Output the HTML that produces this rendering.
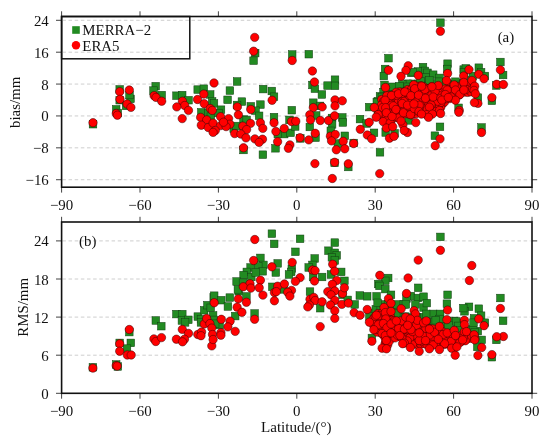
<!DOCTYPE html><html><head><meta charset="utf-8"><title>fig</title><style>html,body{margin:0;padding:0;background:#fff;overflow:hidden}svg{display:block}text{font-family:"Liberation Serif","DejaVu Serif",serif;fill:#111}</style></head><body>
<svg width="550" height="442" viewBox="0 0 550 442">
<rect width="550" height="442" fill="#fff"/>
<rect x="61.6" y="16.5" width="128.20" height="42.30" fill="#fff" stroke="#111" stroke-width="1.5"/>
<line x1="62.4" y1="20.31" x2="530.5" y2="20.31" stroke="#c2c2c2" stroke-width="0.8" stroke-dasharray="3.5 2.65"/>
<line x1="62.4" y1="52.19" x2="530.5" y2="52.19" stroke="#c2c2c2" stroke-width="0.8" stroke-dasharray="3.5 2.65"/>
<line x1="62.4" y1="84.07" x2="530.5" y2="84.07" stroke="#c2c2c2" stroke-width="0.8" stroke-dasharray="3.5 2.65"/>
<line x1="62.4" y1="115.95" x2="530.5" y2="115.95" stroke="#c2c2c2" stroke-width="0.8" stroke-dasharray="3.5 2.65"/>
<line x1="62.4" y1="147.83" x2="530.5" y2="147.83" stroke="#c2c2c2" stroke-width="0.8" stroke-dasharray="3.5 2.65"/>
<line x1="62.4" y1="179.71" x2="530.5" y2="179.71" stroke="#c2c2c2" stroke-width="0.8" stroke-dasharray="3.5 2.65"/>
<line x1="62.4" y1="240.90" x2="530.5" y2="240.90" stroke="#c2c2c2" stroke-width="0.8" stroke-dasharray="3.5 2.65"/>
<line x1="62.4" y1="279.00" x2="530.5" y2="279.00" stroke="#c2c2c2" stroke-width="0.8" stroke-dasharray="3.5 2.65"/>
<line x1="62.4" y1="317.10" x2="530.5" y2="317.10" stroke="#c2c2c2" stroke-width="0.8" stroke-dasharray="3.5 2.65"/>
<line x1="62.4" y1="355.20" x2="530.5" y2="355.20" stroke="#c2c2c2" stroke-width="0.8" stroke-dasharray="3.5 2.65"/>
<g>
<rect x="436.4" y="83.9" width="7.6" height="7.6" fill="#228b22" stroke="#123d12" stroke-width="0.5"/>
<rect x="409.4" y="80.0" width="7.6" height="7.6" fill="#228b22" stroke="#123d12" stroke-width="0.5"/>
<rect x="414.3" y="80.1" width="7.6" height="7.6" fill="#228b22" stroke="#123d12" stroke-width="0.5"/>
<rect x="386.1" y="101.7" width="7.6" height="7.6" fill="#228b22" stroke="#123d12" stroke-width="0.5"/>
<rect x="404.1" y="79.9" width="7.6" height="7.6" fill="#228b22" stroke="#123d12" stroke-width="0.5"/>
<rect x="378.5" y="105.8" width="7.6" height="7.6" fill="#228b22" stroke="#123d12" stroke-width="0.5"/>
<rect x="411.8" y="84.6" width="7.6" height="7.6" fill="#228b22" stroke="#123d12" stroke-width="0.5"/>
<rect x="422.4" y="93.3" width="7.6" height="7.6" fill="#228b22" stroke="#123d12" stroke-width="0.5"/>
<rect x="451.4" y="84.4" width="7.6" height="7.6" fill="#228b22" stroke="#123d12" stroke-width="0.5"/>
<rect x="379.7" y="88.3" width="7.6" height="7.6" fill="#228b22" stroke="#123d12" stroke-width="0.5"/>
<rect x="407.3" y="101.0" width="7.6" height="7.6" fill="#228b22" stroke="#123d12" stroke-width="0.5"/>
<rect x="374.0" y="97.4" width="7.6" height="7.6" fill="#228b22" stroke="#123d12" stroke-width="0.5"/>
<rect x="434.1" y="96.8" width="7.6" height="7.6" fill="#228b22" stroke="#123d12" stroke-width="0.5"/>
<rect x="416.4" y="83.7" width="7.6" height="7.6" fill="#228b22" stroke="#123d12" stroke-width="0.5"/>
<rect x="386.6" y="93.6" width="7.6" height="7.6" fill="#228b22" stroke="#123d12" stroke-width="0.5"/>
<rect x="448.4" y="80.0" width="7.6" height="7.6" fill="#228b22" stroke="#123d12" stroke-width="0.5"/>
<rect x="443.8" y="87.8" width="7.6" height="7.6" fill="#228b22" stroke="#123d12" stroke-width="0.5"/>
<rect x="385.0" y="105.7" width="7.6" height="7.6" fill="#228b22" stroke="#123d12" stroke-width="0.5"/>
<rect x="386.8" y="83.9" width="7.6" height="7.6" fill="#228b22" stroke="#123d12" stroke-width="0.5"/>
<rect x="467.3" y="76.3" width="7.6" height="7.6" fill="#228b22" stroke="#123d12" stroke-width="0.5"/>
<rect x="431.9" y="93.4" width="7.6" height="7.6" fill="#228b22" stroke="#123d12" stroke-width="0.5"/>
<rect x="432.2" y="100.8" width="7.6" height="7.6" fill="#228b22" stroke="#123d12" stroke-width="0.5"/>
<rect x="394.0" y="88.4" width="7.6" height="7.6" fill="#228b22" stroke="#123d12" stroke-width="0.5"/>
<rect x="461.3" y="83.6" width="7.6" height="7.6" fill="#228b22" stroke="#123d12" stroke-width="0.5"/>
<rect x="404.9" y="88.0" width="7.6" height="7.6" fill="#228b22" stroke="#123d12" stroke-width="0.5"/>
<rect x="404.2" y="106.1" width="7.6" height="7.6" fill="#228b22" stroke="#123d12" stroke-width="0.5"/>
<rect x="394.5" y="97.0" width="7.6" height="7.6" fill="#228b22" stroke="#123d12" stroke-width="0.5"/>
<rect x="396.5" y="84.3" width="7.6" height="7.6" fill="#228b22" stroke="#123d12" stroke-width="0.5"/>
<rect x="441.3" y="92.9" width="7.6" height="7.6" fill="#228b22" stroke="#123d12" stroke-width="0.5"/>
<rect x="399.5" y="105.9" width="7.6" height="7.6" fill="#228b22" stroke="#123d12" stroke-width="0.5"/>
<rect x="382.0" y="92.9" width="7.6" height="7.6" fill="#228b22" stroke="#123d12" stroke-width="0.5"/>
<rect x="406.5" y="92.4" width="7.6" height="7.6" fill="#228b22" stroke="#123d12" stroke-width="0.5"/>
<rect x="374.0" y="105.7" width="7.6" height="7.6" fill="#228b22" stroke="#123d12" stroke-width="0.5"/>
<rect x="397.1" y="100.8" width="7.6" height="7.6" fill="#228b22" stroke="#123d12" stroke-width="0.5"/>
<rect x="416.2" y="93.3" width="7.6" height="7.6" fill="#228b22" stroke="#123d12" stroke-width="0.5"/>
<rect x="447.3" y="83.7" width="7.6" height="7.6" fill="#228b22" stroke="#123d12" stroke-width="0.5"/>
<rect x="429.6" y="89.1" width="7.6" height="7.6" fill="#228b22" stroke="#123d12" stroke-width="0.5"/>
<rect x="382.1" y="101.6" width="7.6" height="7.6" fill="#228b22" stroke="#123d12" stroke-width="0.5"/>
<rect x="454.4" y="79.2" width="7.6" height="7.6" fill="#228b22" stroke="#123d12" stroke-width="0.5"/>
<rect x="434.5" y="88.6" width="7.6" height="7.6" fill="#228b22" stroke="#123d12" stroke-width="0.5"/>
<rect x="408.4" y="89.2" width="7.6" height="7.6" fill="#228b22" stroke="#123d12" stroke-width="0.5"/>
<rect x="376.2" y="92.5" width="7.6" height="7.6" fill="#228b22" stroke="#123d12" stroke-width="0.5"/>
<rect x="404.0" y="97.3" width="7.6" height="7.6" fill="#228b22" stroke="#123d12" stroke-width="0.5"/>
<rect x="414.8" y="89.3" width="7.6" height="7.6" fill="#228b22" stroke="#123d12" stroke-width="0.5"/>
<rect x="388.6" y="97.3" width="7.6" height="7.6" fill="#228b22" stroke="#123d12" stroke-width="0.5"/>
<rect x="444.1" y="80.0" width="7.6" height="7.6" fill="#228b22" stroke="#123d12" stroke-width="0.5"/>
<rect x="435.0" y="79.9" width="7.6" height="7.6" fill="#228b22" stroke="#123d12" stroke-width="0.5"/>
<rect x="383.6" y="88.2" width="7.6" height="7.6" fill="#228b22" stroke="#123d12" stroke-width="0.5"/>
<rect x="427.2" y="92.1" width="7.6" height="7.6" fill="#228b22" stroke="#123d12" stroke-width="0.5"/>
<rect x="419.9" y="79.9" width="7.6" height="7.6" fill="#228b22" stroke="#123d12" stroke-width="0.5"/>
<rect x="416.1" y="102.1" width="7.6" height="7.6" fill="#228b22" stroke="#123d12" stroke-width="0.5"/>
<rect x="401.7" y="93.3" width="7.6" height="7.6" fill="#228b22" stroke="#123d12" stroke-width="0.5"/>
<rect x="414.7" y="97.4" width="7.6" height="7.6" fill="#228b22" stroke="#123d12" stroke-width="0.5"/>
<rect x="457.3" y="84.1" width="7.6" height="7.6" fill="#228b22" stroke="#123d12" stroke-width="0.5"/>
<rect x="442.2" y="84.1" width="7.6" height="7.6" fill="#228b22" stroke="#123d12" stroke-width="0.5"/>
<rect x="422.2" y="83.8" width="7.6" height="7.6" fill="#228b22" stroke="#123d12" stroke-width="0.5"/>
<rect x="401.0" y="100.9" width="7.6" height="7.6" fill="#228b22" stroke="#123d12" stroke-width="0.5"/>
<rect x="383.7" y="96.9" width="7.6" height="7.6" fill="#228b22" stroke="#123d12" stroke-width="0.5"/>
<rect x="409.7" y="97.0" width="7.6" height="7.6" fill="#228b22" stroke="#123d12" stroke-width="0.5"/>
<rect x="449.3" y="88.2" width="7.6" height="7.6" fill="#228b22" stroke="#123d12" stroke-width="0.5"/>
<rect x="386.7" y="110.3" width="7.6" height="7.6" fill="#228b22" stroke="#123d12" stroke-width="0.5"/>
<rect x="398.5" y="96.7" width="7.6" height="7.6" fill="#228b22" stroke="#123d12" stroke-width="0.5"/>
<rect x="389.7" y="88.2" width="7.6" height="7.6" fill="#228b22" stroke="#123d12" stroke-width="0.5"/>
<rect x="410.9" y="102.1" width="7.6" height="7.6" fill="#228b22" stroke="#123d12" stroke-width="0.5"/>
<rect x="424.1" y="80.2" width="7.6" height="7.6" fill="#228b22" stroke="#123d12" stroke-width="0.5"/>
<rect x="401.4" y="84.0" width="7.6" height="7.6" fill="#228b22" stroke="#123d12" stroke-width="0.5"/>
<rect x="428.8" y="79.5" width="7.6" height="7.6" fill="#228b22" stroke="#123d12" stroke-width="0.5"/>
<rect x="391.9" y="92.6" width="7.6" height="7.6" fill="#228b22" stroke="#123d12" stroke-width="0.5"/>
<rect x="377.2" y="101.8" width="7.6" height="7.6" fill="#228b22" stroke="#123d12" stroke-width="0.5"/>
<rect x="399.1" y="88.4" width="7.6" height="7.6" fill="#228b22" stroke="#123d12" stroke-width="0.5"/>
<rect x="459.4" y="79.8" width="7.6" height="7.6" fill="#228b22" stroke="#123d12" stroke-width="0.5"/>
<rect x="454.7" y="87.8" width="7.6" height="7.6" fill="#228b22" stroke="#123d12" stroke-width="0.5"/>
<rect x="396.3" y="93.4" width="7.6" height="7.6" fill="#228b22" stroke="#123d12" stroke-width="0.5"/>
<rect x="419.1" y="97.0" width="7.6" height="7.6" fill="#228b22" stroke="#123d12" stroke-width="0.5"/>
<rect x="424.2" y="97.5" width="7.6" height="7.6" fill="#228b22" stroke="#123d12" stroke-width="0.5"/>
<rect x="389.6" y="105.3" width="7.6" height="7.6" fill="#228b22" stroke="#123d12" stroke-width="0.5"/>
<rect x="381.1" y="111.0" width="7.6" height="7.6" fill="#228b22" stroke="#123d12" stroke-width="0.5"/>
<rect x="439.3" y="79.1" width="7.6" height="7.6" fill="#228b22" stroke="#123d12" stroke-width="0.5"/>
<rect x="426.2" y="84.1" width="7.6" height="7.6" fill="#228b22" stroke="#123d12" stroke-width="0.5"/>
<rect x="424.9" y="88.1" width="7.6" height="7.6" fill="#228b22" stroke="#123d12" stroke-width="0.5"/>
<rect x="379.3" y="97.0" width="7.6" height="7.6" fill="#228b22" stroke="#123d12" stroke-width="0.5"/>
<rect x="391.6" y="110.7" width="7.6" height="7.6" fill="#228b22" stroke="#123d12" stroke-width="0.5"/>
<rect x="432.0" y="83.6" width="7.6" height="7.6" fill="#228b22" stroke="#123d12" stroke-width="0.5"/>
<rect x="394.5" y="106.2" width="7.6" height="7.6" fill="#228b22" stroke="#123d12" stroke-width="0.5"/>
<rect x="419.1" y="89.2" width="7.6" height="7.6" fill="#228b22" stroke="#123d12" stroke-width="0.5"/>
<rect x="409.8" y="105.3" width="7.6" height="7.6" fill="#228b22" stroke="#123d12" stroke-width="0.5"/>
<rect x="411.8" y="93.4" width="7.6" height="7.6" fill="#228b22" stroke="#123d12" stroke-width="0.5"/>
<rect x="390.9" y="100.9" width="7.6" height="7.6" fill="#228b22" stroke="#123d12" stroke-width="0.5"/>
<rect x="383.7" y="114.6" width="7.6" height="7.6" fill="#228b22" stroke="#123d12" stroke-width="0.5"/>
<rect x="422.0" y="102.0" width="7.6" height="7.6" fill="#228b22" stroke="#123d12" stroke-width="0.5"/>
<rect x="438.9" y="88.3" width="7.6" height="7.6" fill="#228b22" stroke="#123d12" stroke-width="0.5"/>
<rect x="407.1" y="83.4" width="7.6" height="7.6" fill="#228b22" stroke="#123d12" stroke-width="0.5"/>
<rect x="429.1" y="97.5" width="7.6" height="7.6" fill="#228b22" stroke="#123d12" stroke-width="0.5"/>
<rect x="464.5" y="79.6" width="7.6" height="7.6" fill="#228b22" stroke="#123d12" stroke-width="0.5"/>
<rect x="391.5" y="83.9" width="7.6" height="7.6" fill="#228b22" stroke="#123d12" stroke-width="0.5"/>
<rect x="436.0" y="92.5" width="7.6" height="7.6" fill="#228b22" stroke="#123d12" stroke-width="0.5"/>
<rect x="427.4" y="101.6" width="7.6" height="7.6" fill="#228b22" stroke="#123d12" stroke-width="0.5"/>
<rect x="89.2" y="120.4" width="7.6" height="7.6" fill="#228b22" stroke="#123d12" stroke-width="0.5"/>
<rect x="115.9" y="85.6" width="7.6" height="7.6" fill="#228b22" stroke="#123d12" stroke-width="0.5"/>
<rect x="115.9" y="96.4" width="7.6" height="7.6" fill="#228b22" stroke="#123d12" stroke-width="0.5"/>
<rect x="126.7" y="95.1" width="7.6" height="7.6" fill="#228b22" stroke="#123d12" stroke-width="0.5"/>
<rect x="125.7" y="91.2" width="7.6" height="7.6" fill="#228b22" stroke="#123d12" stroke-width="0.5"/>
<rect x="122.3" y="102.1" width="7.6" height="7.6" fill="#228b22" stroke="#123d12" stroke-width="0.5"/>
<rect x="112.4" y="105.5" width="7.6" height="7.6" fill="#228b22" stroke="#123d12" stroke-width="0.5"/>
<rect x="114.0" y="109.2" width="7.6" height="7.6" fill="#228b22" stroke="#123d12" stroke-width="0.5"/>
<rect x="151.9" y="82.4" width="7.6" height="7.6" fill="#228b22" stroke="#123d12" stroke-width="0.5"/>
<rect x="149.7" y="86.8" width="7.6" height="7.6" fill="#228b22" stroke="#123d12" stroke-width="0.5"/>
<rect x="157.9" y="91.3" width="7.6" height="7.6" fill="#228b22" stroke="#123d12" stroke-width="0.5"/>
<rect x="172.7" y="91.9" width="7.6" height="7.6" fill="#228b22" stroke="#123d12" stroke-width="0.5"/>
<rect x="178.4" y="91.3" width="7.6" height="7.6" fill="#228b22" stroke="#123d12" stroke-width="0.5"/>
<rect x="184.7" y="96.4" width="7.6" height="7.6" fill="#228b22" stroke="#123d12" stroke-width="0.5"/>
<rect x="193.9" y="85.8" width="7.6" height="7.6" fill="#228b22" stroke="#123d12" stroke-width="0.5"/>
<rect x="200.0" y="84.9" width="7.6" height="7.6" fill="#228b22" stroke="#123d12" stroke-width="0.5"/>
<rect x="206.4" y="90.7" width="7.6" height="7.6" fill="#228b22" stroke="#123d12" stroke-width="0.5"/>
<rect x="208.3" y="97.7" width="7.6" height="7.6" fill="#228b22" stroke="#123d12" stroke-width="0.5"/>
<rect x="210.2" y="99.6" width="7.6" height="7.6" fill="#228b22" stroke="#123d12" stroke-width="0.5"/>
<rect x="226.1" y="86.8" width="7.6" height="7.6" fill="#228b22" stroke="#123d12" stroke-width="0.5"/>
<rect x="223.8" y="96.0" width="7.6" height="7.6" fill="#228b22" stroke="#123d12" stroke-width="0.5"/>
<rect x="217.2" y="105.9" width="7.6" height="7.6" fill="#228b22" stroke="#123d12" stroke-width="0.5"/>
<rect x="197.5" y="108.5" width="7.6" height="7.6" fill="#228b22" stroke="#123d12" stroke-width="0.5"/>
<rect x="204.5" y="109.1" width="7.6" height="7.6" fill="#228b22" stroke="#123d12" stroke-width="0.5"/>
<rect x="207.0" y="112.9" width="7.6" height="7.6" fill="#228b22" stroke="#123d12" stroke-width="0.5"/>
<rect x="214.7" y="109.2" width="7.6" height="7.6" fill="#228b22" stroke="#123d12" stroke-width="0.5"/>
<rect x="229.9" y="125.0" width="7.6" height="7.6" fill="#228b22" stroke="#123d12" stroke-width="0.5"/>
<rect x="251.4" y="49.3" width="7.6" height="7.6" fill="#228b22" stroke="#123d12" stroke-width="0.5"/>
<rect x="249.8" y="56.9" width="7.6" height="7.6" fill="#228b22" stroke="#123d12" stroke-width="0.5"/>
<rect x="288.4" y="50.7" width="7.6" height="7.6" fill="#228b22" stroke="#123d12" stroke-width="0.5"/>
<rect x="233.3" y="77.7" width="7.6" height="7.6" fill="#228b22" stroke="#123d12" stroke-width="0.5"/>
<rect x="238.1" y="97.8" width="7.6" height="7.6" fill="#228b22" stroke="#123d12" stroke-width="0.5"/>
<rect x="259.4" y="85.3" width="7.6" height="7.6" fill="#228b22" stroke="#123d12" stroke-width="0.5"/>
<rect x="268.0" y="87.2" width="7.6" height="7.6" fill="#228b22" stroke="#123d12" stroke-width="0.5"/>
<rect x="270.2" y="92.9" width="7.6" height="7.6" fill="#228b22" stroke="#123d12" stroke-width="0.5"/>
<rect x="256.6" y="100.8" width="7.6" height="7.6" fill="#228b22" stroke="#123d12" stroke-width="0.5"/>
<rect x="247.0" y="102.5" width="7.6" height="7.6" fill="#228b22" stroke="#123d12" stroke-width="0.5"/>
<rect x="251.7" y="106.9" width="7.6" height="7.6" fill="#228b22" stroke="#123d12" stroke-width="0.5"/>
<rect x="255.3" y="112.0" width="7.6" height="7.6" fill="#228b22" stroke="#123d12" stroke-width="0.5"/>
<rect x="270.2" y="113.3" width="7.6" height="7.6" fill="#228b22" stroke="#123d12" stroke-width="0.5"/>
<rect x="288.0" y="106.4" width="7.6" height="7.6" fill="#228b22" stroke="#123d12" stroke-width="0.5"/>
<rect x="239.7" y="115.7" width="7.6" height="7.6" fill="#228b22" stroke="#123d12" stroke-width="0.5"/>
<rect x="242.8" y="116.2" width="7.6" height="7.6" fill="#228b22" stroke="#123d12" stroke-width="0.5"/>
<rect x="233.3" y="101.2" width="7.6" height="7.6" fill="#228b22" stroke="#123d12" stroke-width="0.5"/>
<rect x="232.7" y="122.2" width="7.6" height="7.6" fill="#228b22" stroke="#123d12" stroke-width="0.5"/>
<rect x="239.7" y="146.2" width="7.6" height="7.6" fill="#228b22" stroke="#123d12" stroke-width="0.5"/>
<rect x="259.1" y="150.9" width="7.6" height="7.6" fill="#228b22" stroke="#123d12" stroke-width="0.5"/>
<rect x="271.7" y="144.5" width="7.6" height="7.6" fill="#228b22" stroke="#123d12" stroke-width="0.5"/>
<rect x="280.4" y="130.3" width="7.6" height="7.6" fill="#228b22" stroke="#123d12" stroke-width="0.5"/>
<rect x="286.7" y="129.0" width="7.6" height="7.6" fill="#228b22" stroke="#123d12" stroke-width="0.5"/>
<rect x="274.0" y="130.3" width="7.6" height="7.6" fill="#228b22" stroke="#123d12" stroke-width="0.5"/>
<rect x="305.0" y="50.4" width="7.6" height="7.6" fill="#228b22" stroke="#123d12" stroke-width="0.5"/>
<rect x="331.2" y="75.9" width="7.6" height="7.6" fill="#228b22" stroke="#123d12" stroke-width="0.5"/>
<rect x="323.8" y="81.8" width="7.6" height="7.6" fill="#228b22" stroke="#123d12" stroke-width="0.5"/>
<rect x="331.2" y="82.0" width="7.6" height="7.6" fill="#228b22" stroke="#123d12" stroke-width="0.5"/>
<rect x="308.6" y="81.2" width="7.6" height="7.6" fill="#228b22" stroke="#123d12" stroke-width="0.5"/>
<rect x="311.1" y="84.9" width="7.6" height="7.6" fill="#228b22" stroke="#123d12" stroke-width="0.5"/>
<rect x="318.1" y="90.7" width="7.6" height="7.6" fill="#228b22" stroke="#123d12" stroke-width="0.5"/>
<rect x="309.5" y="98.9" width="7.6" height="7.6" fill="#228b22" stroke="#123d12" stroke-width="0.5"/>
<rect x="316.2" y="102.1" width="7.6" height="7.6" fill="#228b22" stroke="#123d12" stroke-width="0.5"/>
<rect x="312.4" y="111.7" width="7.6" height="7.6" fill="#228b22" stroke="#123d12" stroke-width="0.5"/>
<rect x="338.5" y="113.6" width="7.6" height="7.6" fill="#228b22" stroke="#123d12" stroke-width="0.5"/>
<rect x="339.1" y="118.7" width="7.6" height="7.6" fill="#228b22" stroke="#123d12" stroke-width="0.5"/>
<rect x="328.2" y="114.2" width="7.6" height="7.6" fill="#228b22" stroke="#123d12" stroke-width="0.5"/>
<rect x="328.3" y="120.6" width="7.6" height="7.6" fill="#228b22" stroke="#123d12" stroke-width="0.5"/>
<rect x="306.0" y="123.2" width="7.6" height="7.6" fill="#228b22" stroke="#123d12" stroke-width="0.5"/>
<rect x="291.4" y="122.7" width="7.6" height="7.6" fill="#228b22" stroke="#123d12" stroke-width="0.5"/>
<rect x="285.7" y="116.1" width="7.6" height="7.6" fill="#228b22" stroke="#123d12" stroke-width="0.5"/>
<rect x="327.0" y="127.0" width="7.6" height="7.6" fill="#228b22" stroke="#123d12" stroke-width="0.5"/>
<rect x="311.7" y="133.9" width="7.6" height="7.6" fill="#228b22" stroke="#123d12" stroke-width="0.5"/>
<rect x="296.5" y="134.6" width="7.6" height="7.6" fill="#228b22" stroke="#123d12" stroke-width="0.5"/>
<rect x="341.0" y="132.0" width="7.6" height="7.6" fill="#228b22" stroke="#123d12" stroke-width="0.5"/>
<rect x="334.0" y="139.7" width="7.6" height="7.6" fill="#228b22" stroke="#123d12" stroke-width="0.5"/>
<rect x="330.8" y="159.1" width="7.6" height="7.6" fill="#228b22" stroke="#123d12" stroke-width="0.5"/>
<rect x="344.5" y="163.2" width="7.6" height="7.6" fill="#228b22" stroke="#123d12" stroke-width="0.5"/>
<rect x="349.9" y="139.2" width="7.6" height="7.6" fill="#228b22" stroke="#123d12" stroke-width="0.5"/>
<rect x="384.7" y="54.4" width="7.6" height="7.6" fill="#228b22" stroke="#123d12" stroke-width="0.5"/>
<rect x="381.3" y="65.2" width="7.6" height="7.6" fill="#228b22" stroke="#123d12" stroke-width="0.5"/>
<rect x="380.0" y="72.2" width="7.6" height="7.6" fill="#228b22" stroke="#123d12" stroke-width="0.5"/>
<rect x="380.7" y="81.1" width="7.6" height="7.6" fill="#228b22" stroke="#123d12" stroke-width="0.5"/>
<rect x="388.9" y="83.0" width="7.6" height="7.6" fill="#228b22" stroke="#123d12" stroke-width="0.5"/>
<rect x="398.5" y="80.5" width="7.6" height="7.6" fill="#228b22" stroke="#123d12" stroke-width="0.5"/>
<rect x="378.1" y="93.2" width="7.6" height="7.6" fill="#228b22" stroke="#123d12" stroke-width="0.5"/>
<rect x="373.0" y="98.3" width="7.6" height="7.6" fill="#228b22" stroke="#123d12" stroke-width="0.5"/>
<rect x="365.4" y="103.3" width="7.6" height="7.6" fill="#228b22" stroke="#123d12" stroke-width="0.5"/>
<rect x="407.4" y="69.0" width="7.6" height="7.6" fill="#228b22" stroke="#123d12" stroke-width="0.5"/>
<rect x="356.2" y="115.3" width="7.6" height="7.6" fill="#228b22" stroke="#123d12" stroke-width="0.5"/>
<rect x="362.8" y="119.7" width="7.6" height="7.6" fill="#228b22" stroke="#123d12" stroke-width="0.5"/>
<rect x="370.2" y="129.0" width="7.6" height="7.6" fill="#228b22" stroke="#123d12" stroke-width="0.5"/>
<rect x="381.9" y="128.7" width="7.6" height="7.6" fill="#228b22" stroke="#123d12" stroke-width="0.5"/>
<rect x="390.8" y="129.5" width="7.6" height="7.6" fill="#228b22" stroke="#123d12" stroke-width="0.5"/>
<rect x="376.2" y="148.5" width="7.6" height="7.6" fill="#228b22" stroke="#123d12" stroke-width="0.5"/>
<rect x="404.8" y="116.6" width="7.6" height="7.6" fill="#228b22" stroke="#123d12" stroke-width="0.5"/>
<rect x="443.8" y="59.9" width="7.6" height="7.6" fill="#228b22" stroke="#123d12" stroke-width="0.5"/>
<rect x="443.4" y="65.2" width="7.6" height="7.6" fill="#228b22" stroke="#123d12" stroke-width="0.5"/>
<rect x="419.2" y="63.3" width="7.6" height="7.6" fill="#228b22" stroke="#123d12" stroke-width="0.5"/>
<rect x="421.1" y="67.1" width="7.6" height="7.6" fill="#228b22" stroke="#123d12" stroke-width="0.5"/>
<rect x="423.7" y="69.0" width="7.6" height="7.6" fill="#228b22" stroke="#123d12" stroke-width="0.5"/>
<rect x="414.1" y="67.7" width="7.6" height="7.6" fill="#228b22" stroke="#123d12" stroke-width="0.5"/>
<rect x="409.0" y="68.4" width="7.6" height="7.6" fill="#228b22" stroke="#123d12" stroke-width="0.5"/>
<rect x="429.4" y="70.9" width="7.6" height="7.6" fill="#228b22" stroke="#123d12" stroke-width="0.5"/>
<rect x="421.7" y="73.5" width="7.6" height="7.6" fill="#228b22" stroke="#123d12" stroke-width="0.5"/>
<rect x="435.7" y="74.1" width="7.6" height="7.6" fill="#228b22" stroke="#123d12" stroke-width="0.5"/>
<rect x="435.1" y="77.9" width="7.6" height="7.6" fill="#228b22" stroke="#123d12" stroke-width="0.5"/>
<rect x="416.7" y="77.3" width="7.6" height="7.6" fill="#228b22" stroke="#123d12" stroke-width="0.5"/>
<rect x="425.6" y="76.7" width="7.6" height="7.6" fill="#228b22" stroke="#123d12" stroke-width="0.5"/>
<rect x="395.7" y="82.4" width="7.6" height="7.6" fill="#228b22" stroke="#123d12" stroke-width="0.5"/>
<rect x="403.9" y="83.0" width="7.6" height="7.6" fill="#228b22" stroke="#123d12" stroke-width="0.5"/>
<rect x="451.7" y="77.9" width="7.6" height="7.6" fill="#228b22" stroke="#123d12" stroke-width="0.5"/>
<rect x="459.9" y="65.8" width="7.6" height="7.6" fill="#228b22" stroke="#123d12" stroke-width="0.5"/>
<rect x="436.4" y="100.8" width="7.6" height="7.6" fill="#228b22" stroke="#123d12" stroke-width="0.5"/>
<rect x="454.8" y="104.0" width="7.6" height="7.6" fill="#228b22" stroke="#123d12" stroke-width="0.5"/>
<rect x="392.5" y="97.0" width="7.6" height="7.6" fill="#228b22" stroke="#123d12" stroke-width="0.5"/>
<rect x="496.6" y="58.2" width="7.6" height="7.6" fill="#228b22" stroke="#123d12" stroke-width="0.5"/>
<rect x="499.3" y="71.2" width="7.6" height="7.6" fill="#228b22" stroke="#123d12" stroke-width="0.5"/>
<rect x="475.0" y="63.9" width="7.6" height="7.6" fill="#228b22" stroke="#123d12" stroke-width="0.5"/>
<rect x="477.3" y="68.4" width="7.6" height="7.6" fill="#228b22" stroke="#123d12" stroke-width="0.5"/>
<rect x="462.0" y="64.6" width="7.6" height="7.6" fill="#228b22" stroke="#123d12" stroke-width="0.5"/>
<rect x="460.1" y="68.4" width="7.6" height="7.6" fill="#228b22" stroke="#123d12" stroke-width="0.5"/>
<rect x="481.1" y="72.2" width="7.6" height="7.6" fill="#228b22" stroke="#123d12" stroke-width="0.5"/>
<rect x="454.4" y="81.1" width="7.6" height="7.6" fill="#228b22" stroke="#123d12" stroke-width="0.5"/>
<rect x="474.1" y="93.8" width="7.6" height="7.6" fill="#228b22" stroke="#123d12" stroke-width="0.5"/>
<rect x="488.1" y="97.0" width="7.6" height="7.6" fill="#228b22" stroke="#123d12" stroke-width="0.5"/>
<rect x="492.6" y="81.7" width="7.6" height="7.6" fill="#228b22" stroke="#123d12" stroke-width="0.5"/>
<rect x="466.5" y="88.1" width="7.6" height="7.6" fill="#228b22" stroke="#123d12" stroke-width="0.5"/>
<rect x="469.0" y="72.2" width="7.6" height="7.6" fill="#228b22" stroke="#123d12" stroke-width="0.5"/>
<rect x="436.2" y="123.0" width="7.6" height="7.6" fill="#228b22" stroke="#123d12" stroke-width="0.5"/>
<rect x="431.1" y="131.9" width="7.6" height="7.6" fill="#228b22" stroke="#123d12" stroke-width="0.5"/>
<rect x="477.7" y="123.7" width="7.6" height="7.6" fill="#228b22" stroke="#123d12" stroke-width="0.5"/>
<rect x="436.6" y="18.9" width="7.6" height="7.6" fill="#228b22" stroke="#123d12" stroke-width="0.5"/>
<circle cx="411.9" cy="114.9" r="4.2" fill="#ff0000" stroke="#330000" stroke-width="0.5"/>
<circle cx="423.8" cy="86.9" r="4.2" fill="#ff0000" stroke="#330000" stroke-width="0.5"/>
<circle cx="395.4" cy="117.3" r="4.2" fill="#ff0000" stroke="#330000" stroke-width="0.5"/>
<circle cx="426.8" cy="108.5" r="4.2" fill="#ff0000" stroke="#330000" stroke-width="0.5"/>
<circle cx="422.1" cy="102.2" r="4.2" fill="#ff0000" stroke="#330000" stroke-width="0.5"/>
<circle cx="459.3" cy="95.1" r="4.2" fill="#ff0000" stroke="#330000" stroke-width="0.5"/>
<circle cx="398.7" cy="111.6" r="4.2" fill="#ff0000" stroke="#330000" stroke-width="0.5"/>
<circle cx="404.8" cy="95.8" r="4.2" fill="#ff0000" stroke="#330000" stroke-width="0.5"/>
<circle cx="386.9" cy="102.4" r="4.2" fill="#ff0000" stroke="#330000" stroke-width="0.5"/>
<circle cx="449.2" cy="87.0" r="4.2" fill="#ff0000" stroke="#330000" stroke-width="0.5"/>
<circle cx="391.0" cy="120.9" r="4.2" fill="#ff0000" stroke="#330000" stroke-width="0.5"/>
<circle cx="391.6" cy="111.4" r="4.2" fill="#ff0000" stroke="#330000" stroke-width="0.5"/>
<circle cx="384.3" cy="111.4" r="4.2" fill="#ff0000" stroke="#330000" stroke-width="0.5"/>
<circle cx="422.3" cy="89.9" r="4.2" fill="#ff0000" stroke="#330000" stroke-width="0.5"/>
<circle cx="412.0" cy="108.3" r="4.2" fill="#ff0000" stroke="#330000" stroke-width="0.5"/>
<circle cx="442.4" cy="104.1" r="4.2" fill="#ff0000" stroke="#330000" stroke-width="0.5"/>
<circle cx="429.3" cy="89.1" r="4.2" fill="#ff0000" stroke="#330000" stroke-width="0.5"/>
<circle cx="380.1" cy="114.5" r="4.2" fill="#ff0000" stroke="#330000" stroke-width="0.5"/>
<circle cx="471.9" cy="86.8" r="4.2" fill="#ff0000" stroke="#330000" stroke-width="0.5"/>
<circle cx="444.5" cy="102.1" r="4.2" fill="#ff0000" stroke="#330000" stroke-width="0.5"/>
<circle cx="379.8" cy="108.8" r="4.2" fill="#ff0000" stroke="#330000" stroke-width="0.5"/>
<circle cx="435.3" cy="104.6" r="4.2" fill="#ff0000" stroke="#330000" stroke-width="0.5"/>
<circle cx="389.6" cy="114.1" r="4.2" fill="#ff0000" stroke="#330000" stroke-width="0.5"/>
<circle cx="385.3" cy="99.1" r="4.2" fill="#ff0000" stroke="#330000" stroke-width="0.5"/>
<circle cx="408.5" cy="114.0" r="4.2" fill="#ff0000" stroke="#330000" stroke-width="0.5"/>
<circle cx="452.8" cy="92.4" r="4.2" fill="#ff0000" stroke="#330000" stroke-width="0.5"/>
<circle cx="417.4" cy="110.9" r="4.2" fill="#ff0000" stroke="#330000" stroke-width="0.5"/>
<circle cx="432.4" cy="92.3" r="4.2" fill="#ff0000" stroke="#330000" stroke-width="0.5"/>
<circle cx="401.5" cy="114.2" r="4.2" fill="#ff0000" stroke="#330000" stroke-width="0.5"/>
<circle cx="464.8" cy="92.1" r="4.2" fill="#ff0000" stroke="#330000" stroke-width="0.5"/>
<circle cx="431.0" cy="98.3" r="4.2" fill="#ff0000" stroke="#330000" stroke-width="0.5"/>
<circle cx="467.8" cy="92.4" r="4.2" fill="#ff0000" stroke="#330000" stroke-width="0.5"/>
<circle cx="453.7" cy="86.3" r="4.2" fill="#ff0000" stroke="#330000" stroke-width="0.5"/>
<circle cx="418.7" cy="89.4" r="4.2" fill="#ff0000" stroke="#330000" stroke-width="0.5"/>
<circle cx="427.8" cy="98.1" r="4.2" fill="#ff0000" stroke="#330000" stroke-width="0.5"/>
<circle cx="416.6" cy="105.4" r="4.2" fill="#ff0000" stroke="#330000" stroke-width="0.5"/>
<circle cx="440.7" cy="107.5" r="4.2" fill="#ff0000" stroke="#330000" stroke-width="0.5"/>
<circle cx="413.4" cy="104.6" r="4.2" fill="#ff0000" stroke="#330000" stroke-width="0.5"/>
<circle cx="398.8" cy="98.0" r="4.2" fill="#ff0000" stroke="#330000" stroke-width="0.5"/>
<circle cx="437.1" cy="94.9" r="4.2" fill="#ff0000" stroke="#330000" stroke-width="0.5"/>
<circle cx="438.6" cy="98.9" r="4.2" fill="#ff0000" stroke="#330000" stroke-width="0.5"/>
<circle cx="450.8" cy="95.6" r="4.2" fill="#ff0000" stroke="#330000" stroke-width="0.5"/>
<circle cx="411.5" cy="95.3" r="4.2" fill="#ff0000" stroke="#330000" stroke-width="0.5"/>
<circle cx="410.3" cy="111.7" r="4.2" fill="#ff0000" stroke="#330000" stroke-width="0.5"/>
<circle cx="434.6" cy="91.9" r="4.2" fill="#ff0000" stroke="#330000" stroke-width="0.5"/>
<circle cx="463.7" cy="86.4" r="4.2" fill="#ff0000" stroke="#330000" stroke-width="0.5"/>
<circle cx="430.3" cy="108.2" r="4.2" fill="#ff0000" stroke="#330000" stroke-width="0.5"/>
<circle cx="388.6" cy="117.5" r="4.2" fill="#ff0000" stroke="#330000" stroke-width="0.5"/>
<circle cx="440.9" cy="89.9" r="4.2" fill="#ff0000" stroke="#330000" stroke-width="0.5"/>
<circle cx="424.5" cy="98.0" r="4.2" fill="#ff0000" stroke="#330000" stroke-width="0.5"/>
<circle cx="431.8" cy="86.7" r="4.2" fill="#ff0000" stroke="#330000" stroke-width="0.5"/>
<circle cx="466.9" cy="85.9" r="4.2" fill="#ff0000" stroke="#330000" stroke-width="0.5"/>
<circle cx="395.2" cy="111.3" r="4.2" fill="#ff0000" stroke="#330000" stroke-width="0.5"/>
<circle cx="469.9" cy="89.1" r="4.2" fill="#ff0000" stroke="#330000" stroke-width="0.5"/>
<circle cx="399.7" cy="105.4" r="4.2" fill="#ff0000" stroke="#330000" stroke-width="0.5"/>
<circle cx="421.1" cy="91.8" r="4.2" fill="#ff0000" stroke="#330000" stroke-width="0.5"/>
<circle cx="385.3" cy="104.5" r="4.2" fill="#ff0000" stroke="#330000" stroke-width="0.5"/>
<circle cx="406.4" cy="105.5" r="4.2" fill="#ff0000" stroke="#330000" stroke-width="0.5"/>
<circle cx="413.4" cy="98.4" r="4.2" fill="#ff0000" stroke="#330000" stroke-width="0.5"/>
<circle cx="459.7" cy="91.7" r="4.2" fill="#ff0000" stroke="#330000" stroke-width="0.5"/>
<circle cx="430.3" cy="102.0" r="4.2" fill="#ff0000" stroke="#330000" stroke-width="0.5"/>
<circle cx="407.7" cy="89.6" r="4.2" fill="#ff0000" stroke="#330000" stroke-width="0.5"/>
<circle cx="444.9" cy="89.1" r="4.2" fill="#ff0000" stroke="#330000" stroke-width="0.5"/>
<circle cx="388.7" cy="111.7" r="4.2" fill="#ff0000" stroke="#330000" stroke-width="0.5"/>
<circle cx="415.1" cy="96.1" r="4.2" fill="#ff0000" stroke="#330000" stroke-width="0.5"/>
<circle cx="382.7" cy="114.8" r="4.2" fill="#ff0000" stroke="#330000" stroke-width="0.5"/>
<circle cx="424.5" cy="105.7" r="4.2" fill="#ff0000" stroke="#330000" stroke-width="0.5"/>
<circle cx="403.6" cy="105.0" r="4.2" fill="#ff0000" stroke="#330000" stroke-width="0.5"/>
<circle cx="432.4" cy="111.1" r="4.2" fill="#ff0000" stroke="#330000" stroke-width="0.5"/>
<circle cx="381.7" cy="99.4" r="4.2" fill="#ff0000" stroke="#330000" stroke-width="0.5"/>
<circle cx="396.9" cy="113.9" r="4.2" fill="#ff0000" stroke="#330000" stroke-width="0.5"/>
<circle cx="419.6" cy="95.3" r="4.2" fill="#ff0000" stroke="#330000" stroke-width="0.5"/>
<circle cx="449.8" cy="98.6" r="4.2" fill="#ff0000" stroke="#330000" stroke-width="0.5"/>
<circle cx="446.0" cy="98.7" r="4.2" fill="#ff0000" stroke="#330000" stroke-width="0.5"/>
<circle cx="416.8" cy="97.9" r="4.2" fill="#ff0000" stroke="#330000" stroke-width="0.5"/>
<circle cx="436.7" cy="88.9" r="4.2" fill="#ff0000" stroke="#330000" stroke-width="0.5"/>
<circle cx="425.5" cy="102.6" r="4.2" fill="#ff0000" stroke="#330000" stroke-width="0.5"/>
<circle cx="395.9" cy="99.0" r="4.2" fill="#ff0000" stroke="#330000" stroke-width="0.5"/>
<circle cx="393.6" cy="107.9" r="4.2" fill="#ff0000" stroke="#330000" stroke-width="0.5"/>
<circle cx="428.4" cy="105.7" r="4.2" fill="#ff0000" stroke="#330000" stroke-width="0.5"/>
<circle cx="391.9" cy="98.2" r="4.2" fill="#ff0000" stroke="#330000" stroke-width="0.5"/>
<circle cx="408.2" cy="108.5" r="4.2" fill="#ff0000" stroke="#330000" stroke-width="0.5"/>
<circle cx="381.2" cy="111.6" r="4.2" fill="#ff0000" stroke="#330000" stroke-width="0.5"/>
<circle cx="406.0" cy="111.9" r="4.2" fill="#ff0000" stroke="#330000" stroke-width="0.5"/>
<circle cx="454.6" cy="89.7" r="4.2" fill="#ff0000" stroke="#330000" stroke-width="0.5"/>
<circle cx="402.1" cy="92.1" r="4.2" fill="#ff0000" stroke="#330000" stroke-width="0.5"/>
<circle cx="392.0" cy="116.7" r="4.2" fill="#ff0000" stroke="#330000" stroke-width="0.5"/>
<circle cx="434.2" cy="89.8" r="4.2" fill="#ff0000" stroke="#330000" stroke-width="0.5"/>
<circle cx="384.9" cy="117.2" r="4.2" fill="#ff0000" stroke="#330000" stroke-width="0.5"/>
<circle cx="420.7" cy="111.6" r="4.2" fill="#ff0000" stroke="#330000" stroke-width="0.5"/>
<circle cx="386.0" cy="114.6" r="4.2" fill="#ff0000" stroke="#330000" stroke-width="0.5"/>
<circle cx="412.2" cy="101.1" r="4.2" fill="#ff0000" stroke="#330000" stroke-width="0.5"/>
<circle cx="413.2" cy="92.9" r="4.2" fill="#ff0000" stroke="#330000" stroke-width="0.5"/>
<circle cx="428.2" cy="110.6" r="4.2" fill="#ff0000" stroke="#330000" stroke-width="0.5"/>
<circle cx="397.2" cy="108.6" r="4.2" fill="#ff0000" stroke="#330000" stroke-width="0.5"/>
<circle cx="433.2" cy="107.7" r="4.2" fill="#ff0000" stroke="#330000" stroke-width="0.5"/>
<circle cx="386.8" cy="108.1" r="4.2" fill="#ff0000" stroke="#330000" stroke-width="0.5"/>
<circle cx="401.8" cy="95.5" r="4.2" fill="#ff0000" stroke="#330000" stroke-width="0.5"/>
<circle cx="406.5" cy="98.8" r="4.2" fill="#ff0000" stroke="#330000" stroke-width="0.5"/>
<circle cx="395.2" cy="105.2" r="4.2" fill="#ff0000" stroke="#330000" stroke-width="0.5"/>
<circle cx="460.2" cy="86.4" r="4.2" fill="#ff0000" stroke="#330000" stroke-width="0.5"/>
<circle cx="410.7" cy="92.4" r="4.2" fill="#ff0000" stroke="#330000" stroke-width="0.5"/>
<circle cx="442.0" cy="97.9" r="4.2" fill="#ff0000" stroke="#330000" stroke-width="0.5"/>
<circle cx="445.8" cy="93.2" r="4.2" fill="#ff0000" stroke="#330000" stroke-width="0.5"/>
<circle cx="421.0" cy="98.6" r="4.2" fill="#ff0000" stroke="#330000" stroke-width="0.5"/>
<circle cx="383.6" cy="101.5" r="4.2" fill="#ff0000" stroke="#330000" stroke-width="0.5"/>
<circle cx="394.2" cy="102.0" r="4.2" fill="#ff0000" stroke="#330000" stroke-width="0.5"/>
<circle cx="420.7" cy="85.7" r="4.2" fill="#ff0000" stroke="#330000" stroke-width="0.5"/>
<circle cx="424.9" cy="110.7" r="4.2" fill="#ff0000" stroke="#330000" stroke-width="0.5"/>
<circle cx="422.3" cy="95.7" r="4.2" fill="#ff0000" stroke="#330000" stroke-width="0.5"/>
<circle cx="441.8" cy="93.1" r="4.2" fill="#ff0000" stroke="#330000" stroke-width="0.5"/>
<circle cx="403.5" cy="99.2" r="4.2" fill="#ff0000" stroke="#330000" stroke-width="0.5"/>
<circle cx="398.0" cy="102.5" r="4.2" fill="#ff0000" stroke="#330000" stroke-width="0.5"/>
<circle cx="401.1" cy="108.4" r="4.2" fill="#ff0000" stroke="#330000" stroke-width="0.5"/>
<circle cx="390.0" cy="107.3" r="4.2" fill="#ff0000" stroke="#330000" stroke-width="0.5"/>
<circle cx="447.8" cy="96.2" r="4.2" fill="#ff0000" stroke="#330000" stroke-width="0.5"/>
<circle cx="418.8" cy="101.8" r="4.2" fill="#ff0000" stroke="#330000" stroke-width="0.5"/>
<circle cx="415.6" cy="107.9" r="4.2" fill="#ff0000" stroke="#330000" stroke-width="0.5"/>
<circle cx="410.6" cy="98.6" r="4.2" fill="#ff0000" stroke="#330000" stroke-width="0.5"/>
<circle cx="426.3" cy="95.7" r="4.2" fill="#ff0000" stroke="#330000" stroke-width="0.5"/>
<circle cx="381.4" cy="105.1" r="4.2" fill="#ff0000" stroke="#330000" stroke-width="0.5"/>
<circle cx="417.7" cy="91.7" r="4.2" fill="#ff0000" stroke="#330000" stroke-width="0.5"/>
<circle cx="443.9" cy="96.1" r="4.2" fill="#ff0000" stroke="#330000" stroke-width="0.5"/>
<circle cx="410.4" cy="105.1" r="4.2" fill="#ff0000" stroke="#330000" stroke-width="0.5"/>
<circle cx="388.1" cy="105.0" r="4.2" fill="#ff0000" stroke="#330000" stroke-width="0.5"/>
<circle cx="390.0" cy="102.1" r="4.2" fill="#ff0000" stroke="#330000" stroke-width="0.5"/>
<circle cx="389.8" cy="95.7" r="4.2" fill="#ff0000" stroke="#330000" stroke-width="0.5"/>
<circle cx="433.0" cy="94.9" r="4.2" fill="#ff0000" stroke="#330000" stroke-width="0.5"/>
<circle cx="438.4" cy="92.9" r="4.2" fill="#ff0000" stroke="#330000" stroke-width="0.5"/>
<circle cx="470.9" cy="91.8" r="4.2" fill="#ff0000" stroke="#330000" stroke-width="0.5"/>
<circle cx="401.7" cy="101.9" r="4.2" fill="#ff0000" stroke="#330000" stroke-width="0.5"/>
<circle cx="416.2" cy="113.6" r="4.2" fill="#ff0000" stroke="#330000" stroke-width="0.5"/>
<circle cx="466.2" cy="89.5" r="4.2" fill="#ff0000" stroke="#330000" stroke-width="0.5"/>
<circle cx="437.3" cy="108.7" r="4.2" fill="#ff0000" stroke="#330000" stroke-width="0.5"/>
<circle cx="472.7" cy="89.0" r="4.2" fill="#ff0000" stroke="#330000" stroke-width="0.5"/>
<circle cx="407.7" cy="101.9" r="4.2" fill="#ff0000" stroke="#330000" stroke-width="0.5"/>
<circle cx="438.8" cy="104.7" r="4.2" fill="#ff0000" stroke="#330000" stroke-width="0.5"/>
<circle cx="382.7" cy="107.5" r="4.2" fill="#ff0000" stroke="#330000" stroke-width="0.5"/>
<circle cx="388.7" cy="98.2" r="4.2" fill="#ff0000" stroke="#330000" stroke-width="0.5"/>
<circle cx="391.6" cy="105.1" r="4.2" fill="#ff0000" stroke="#330000" stroke-width="0.5"/>
<circle cx="399.3" cy="92.0" r="4.2" fill="#ff0000" stroke="#330000" stroke-width="0.5"/>
<circle cx="404.1" cy="101.4" r="4.2" fill="#ff0000" stroke="#330000" stroke-width="0.5"/>
<circle cx="435.9" cy="111.5" r="4.2" fill="#ff0000" stroke="#330000" stroke-width="0.5"/>
<circle cx="393.5" cy="95.2" r="4.2" fill="#ff0000" stroke="#330000" stroke-width="0.5"/>
<circle cx="403.4" cy="110.9" r="4.2" fill="#ff0000" stroke="#330000" stroke-width="0.5"/>
<circle cx="393.8" cy="114.1" r="4.2" fill="#ff0000" stroke="#330000" stroke-width="0.5"/>
<circle cx="450.3" cy="92.1" r="4.2" fill="#ff0000" stroke="#330000" stroke-width="0.5"/>
<circle cx="455.5" cy="94.9" r="4.2" fill="#ff0000" stroke="#330000" stroke-width="0.5"/>
<circle cx="439.9" cy="95.8" r="4.2" fill="#ff0000" stroke="#330000" stroke-width="0.5"/>
<circle cx="396.1" cy="92.3" r="4.2" fill="#ff0000" stroke="#330000" stroke-width="0.5"/>
<circle cx="433.0" cy="102.5" r="4.2" fill="#ff0000" stroke="#330000" stroke-width="0.5"/>
<circle cx="423.3" cy="108.5" r="4.2" fill="#ff0000" stroke="#330000" stroke-width="0.5"/>
<circle cx="404.7" cy="113.8" r="4.2" fill="#ff0000" stroke="#330000" stroke-width="0.5"/>
<circle cx="411.7" cy="88.9" r="4.2" fill="#ff0000" stroke="#330000" stroke-width="0.5"/>
<circle cx="435.7" cy="98.5" r="4.2" fill="#ff0000" stroke="#330000" stroke-width="0.5"/>
<circle cx="398.7" cy="118.0" r="4.2" fill="#ff0000" stroke="#330000" stroke-width="0.5"/>
<circle cx="405.2" cy="108.5" r="4.2" fill="#ff0000" stroke="#330000" stroke-width="0.5"/>
<circle cx="396.7" cy="95.2" r="4.2" fill="#ff0000" stroke="#330000" stroke-width="0.5"/>
<circle cx="419.2" cy="108.3" r="4.2" fill="#ff0000" stroke="#330000" stroke-width="0.5"/>
<circle cx="414.8" cy="89.6" r="4.2" fill="#ff0000" stroke="#330000" stroke-width="0.5"/>
<circle cx="412.8" cy="111.8" r="4.2" fill="#ff0000" stroke="#330000" stroke-width="0.5"/>
<circle cx="441.0" cy="102.4" r="4.2" fill="#ff0000" stroke="#330000" stroke-width="0.5"/>
<circle cx="448.4" cy="89.7" r="4.2" fill="#ff0000" stroke="#330000" stroke-width="0.5"/>
<circle cx="416.4" cy="86.1" r="4.2" fill="#ff0000" stroke="#330000" stroke-width="0.5"/>
<circle cx="456.2" cy="92.7" r="4.2" fill="#ff0000" stroke="#330000" stroke-width="0.5"/>
<circle cx="386.8" cy="120.4" r="4.2" fill="#ff0000" stroke="#330000" stroke-width="0.5"/>
<circle cx="457.9" cy="88.8" r="4.2" fill="#ff0000" stroke="#330000" stroke-width="0.5"/>
<circle cx="420.2" cy="105.3" r="4.2" fill="#ff0000" stroke="#330000" stroke-width="0.5"/>
<circle cx="427.3" cy="92.1" r="4.2" fill="#ff0000" stroke="#330000" stroke-width="0.5"/>
<circle cx="429.4" cy="94.8" r="4.2" fill="#ff0000" stroke="#330000" stroke-width="0.5"/>
<circle cx="462.9" cy="88.9" r="4.2" fill="#ff0000" stroke="#330000" stroke-width="0.5"/>
<circle cx="456.4" cy="86.5" r="4.2" fill="#ff0000" stroke="#330000" stroke-width="0.5"/>
<circle cx="408.9" cy="95.4" r="4.2" fill="#ff0000" stroke="#330000" stroke-width="0.5"/>
<circle cx="423.8" cy="93.1" r="4.2" fill="#ff0000" stroke="#330000" stroke-width="0.5"/>
<circle cx="386.9" cy="95.8" r="4.2" fill="#ff0000" stroke="#330000" stroke-width="0.5"/>
<circle cx="407.0" cy="92.6" r="4.2" fill="#ff0000" stroke="#330000" stroke-width="0.5"/>
<circle cx="426.8" cy="88.6" r="4.2" fill="#ff0000" stroke="#330000" stroke-width="0.5"/>
<circle cx="451.4" cy="90.1" r="4.2" fill="#ff0000" stroke="#330000" stroke-width="0.5"/>
<circle cx="437.7" cy="101.2" r="4.2" fill="#ff0000" stroke="#330000" stroke-width="0.5"/>
<circle cx="415.7" cy="102.2" r="4.2" fill="#ff0000" stroke="#330000" stroke-width="0.5"/>
<circle cx="431.0" cy="104.9" r="4.2" fill="#ff0000" stroke="#330000" stroke-width="0.5"/>
<circle cx="93.0" cy="122.7" r="4.2" fill="#ff0000" stroke="#330000" stroke-width="0.5"/>
<circle cx="116.3" cy="113.5" r="4.2" fill="#ff0000" stroke="#330000" stroke-width="0.5"/>
<circle cx="117.4" cy="115.2" r="4.2" fill="#ff0000" stroke="#330000" stroke-width="0.5"/>
<circle cx="119.7" cy="91.7" r="4.2" fill="#ff0000" stroke="#330000" stroke-width="0.5"/>
<circle cx="120.0" cy="99.3" r="4.2" fill="#ff0000" stroke="#330000" stroke-width="0.5"/>
<circle cx="129.3" cy="90.0" r="4.2" fill="#ff0000" stroke="#330000" stroke-width="0.5"/>
<circle cx="127.1" cy="104.0" r="4.2" fill="#ff0000" stroke="#330000" stroke-width="0.5"/>
<circle cx="130.9" cy="107.4" r="4.2" fill="#ff0000" stroke="#330000" stroke-width="0.5"/>
<circle cx="154.1" cy="95.7" r="4.2" fill="#ff0000" stroke="#330000" stroke-width="0.5"/>
<circle cx="156.0" cy="97.4" r="4.2" fill="#ff0000" stroke="#330000" stroke-width="0.5"/>
<circle cx="161.7" cy="101.2" r="4.2" fill="#ff0000" stroke="#330000" stroke-width="0.5"/>
<circle cx="214.0" cy="83.0" r="4.2" fill="#ff0000" stroke="#330000" stroke-width="0.5"/>
<circle cx="203.8" cy="94.1" r="4.2" fill="#ff0000" stroke="#330000" stroke-width="0.5"/>
<circle cx="197.5" cy="99.5" r="4.2" fill="#ff0000" stroke="#330000" stroke-width="0.5"/>
<circle cx="204.2" cy="103.7" r="4.2" fill="#ff0000" stroke="#330000" stroke-width="0.5"/>
<circle cx="182.4" cy="101.2" r="4.2" fill="#ff0000" stroke="#330000" stroke-width="0.5"/>
<circle cx="184.7" cy="105.5" r="4.2" fill="#ff0000" stroke="#330000" stroke-width="0.5"/>
<circle cx="176.8" cy="106.9" r="4.2" fill="#ff0000" stroke="#330000" stroke-width="0.5"/>
<circle cx="188.5" cy="110.4" r="4.2" fill="#ff0000" stroke="#330000" stroke-width="0.5"/>
<circle cx="182.2" cy="118.6" r="4.2" fill="#ff0000" stroke="#330000" stroke-width="0.5"/>
<circle cx="210.2" cy="108.5" r="4.2" fill="#ff0000" stroke="#330000" stroke-width="0.5"/>
<circle cx="212.3" cy="110.4" r="4.2" fill="#ff0000" stroke="#330000" stroke-width="0.5"/>
<circle cx="200.6" cy="117.4" r="4.2" fill="#ff0000" stroke="#330000" stroke-width="0.5"/>
<circle cx="206.7" cy="119.9" r="4.2" fill="#ff0000" stroke="#330000" stroke-width="0.5"/>
<circle cx="201.3" cy="125.2" r="4.2" fill="#ff0000" stroke="#330000" stroke-width="0.5"/>
<circle cx="208.3" cy="127.5" r="4.2" fill="#ff0000" stroke="#330000" stroke-width="0.5"/>
<circle cx="213.1" cy="123.1" r="4.2" fill="#ff0000" stroke="#330000" stroke-width="0.5"/>
<circle cx="220.6" cy="116.7" r="4.2" fill="#ff0000" stroke="#330000" stroke-width="0.5"/>
<circle cx="220.6" cy="125.6" r="4.2" fill="#ff0000" stroke="#330000" stroke-width="0.5"/>
<circle cx="215.3" cy="130.5" r="4.2" fill="#ff0000" stroke="#330000" stroke-width="0.5"/>
<circle cx="213.1" cy="132.4" r="4.2" fill="#ff0000" stroke="#330000" stroke-width="0.5"/>
<circle cx="228.6" cy="118.6" r="4.2" fill="#ff0000" stroke="#330000" stroke-width="0.5"/>
<circle cx="229.9" cy="124.2" r="4.2" fill="#ff0000" stroke="#330000" stroke-width="0.5"/>
<circle cx="226.1" cy="126.6" r="4.2" fill="#ff0000" stroke="#330000" stroke-width="0.5"/>
<circle cx="223.5" cy="122.2" r="4.2" fill="#ff0000" stroke="#330000" stroke-width="0.5"/>
<circle cx="234.7" cy="133.6" r="4.2" fill="#ff0000" stroke="#330000" stroke-width="0.5"/>
<circle cx="254.7" cy="37.4" r="4.2" fill="#ff0000" stroke="#330000" stroke-width="0.5"/>
<circle cx="253.6" cy="51.2" r="4.2" fill="#ff0000" stroke="#330000" stroke-width="0.5"/>
<circle cx="292.2" cy="60.5" r="4.2" fill="#ff0000" stroke="#330000" stroke-width="0.5"/>
<circle cx="272.1" cy="100.3" r="4.2" fill="#ff0000" stroke="#330000" stroke-width="0.5"/>
<circle cx="237.3" cy="106.9" r="4.2" fill="#ff0000" stroke="#330000" stroke-width="0.5"/>
<circle cx="238.4" cy="114.8" r="4.2" fill="#ff0000" stroke="#330000" stroke-width="0.5"/>
<circle cx="250.8" cy="109.5" r="4.2" fill="#ff0000" stroke="#330000" stroke-width="0.5"/>
<circle cx="250.5" cy="123.4" r="4.2" fill="#ff0000" stroke="#330000" stroke-width="0.5"/>
<circle cx="242.8" cy="126.1" r="4.2" fill="#ff0000" stroke="#330000" stroke-width="0.5"/>
<circle cx="260.4" cy="122.8" r="4.2" fill="#ff0000" stroke="#330000" stroke-width="0.5"/>
<circle cx="274.0" cy="122.8" r="4.2" fill="#ff0000" stroke="#330000" stroke-width="0.5"/>
<circle cx="291.5" cy="121.5" r="4.2" fill="#ff0000" stroke="#330000" stroke-width="0.5"/>
<circle cx="246.6" cy="129.6" r="4.2" fill="#ff0000" stroke="#330000" stroke-width="0.5"/>
<circle cx="240.9" cy="134.1" r="4.2" fill="#ff0000" stroke="#330000" stroke-width="0.5"/>
<circle cx="246.0" cy="137.9" r="4.2" fill="#ff0000" stroke="#330000" stroke-width="0.5"/>
<circle cx="254.9" cy="138.9" r="4.2" fill="#ff0000" stroke="#330000" stroke-width="0.5"/>
<circle cx="262.5" cy="139.2" r="4.2" fill="#ff0000" stroke="#330000" stroke-width="0.5"/>
<circle cx="259.1" cy="142.4" r="4.2" fill="#ff0000" stroke="#330000" stroke-width="0.5"/>
<circle cx="262.8" cy="128.4" r="4.2" fill="#ff0000" stroke="#330000" stroke-width="0.5"/>
<circle cx="275.9" cy="131.5" r="4.2" fill="#ff0000" stroke="#330000" stroke-width="0.5"/>
<circle cx="277.6" cy="141.7" r="4.2" fill="#ff0000" stroke="#330000" stroke-width="0.5"/>
<circle cx="284.2" cy="128.4" r="4.2" fill="#ff0000" stroke="#330000" stroke-width="0.5"/>
<circle cx="289.9" cy="144.9" r="4.2" fill="#ff0000" stroke="#330000" stroke-width="0.5"/>
<circle cx="288.4" cy="148.3" r="4.2" fill="#ff0000" stroke="#330000" stroke-width="0.5"/>
<circle cx="243.5" cy="147.8" r="4.2" fill="#ff0000" stroke="#330000" stroke-width="0.5"/>
<circle cx="312.4" cy="71.0" r="4.2" fill="#ff0000" stroke="#330000" stroke-width="0.5"/>
<circle cx="314.5" cy="82.0" r="4.2" fill="#ff0000" stroke="#330000" stroke-width="0.5"/>
<circle cx="335.0" cy="99.9" r="4.2" fill="#ff0000" stroke="#330000" stroke-width="0.5"/>
<circle cx="342.3" cy="100.8" r="4.2" fill="#ff0000" stroke="#330000" stroke-width="0.5"/>
<circle cx="335.0" cy="105.9" r="4.2" fill="#ff0000" stroke="#330000" stroke-width="0.5"/>
<circle cx="313.3" cy="107.6" r="4.2" fill="#ff0000" stroke="#330000" stroke-width="0.5"/>
<circle cx="322.2" cy="106.9" r="4.2" fill="#ff0000" stroke="#330000" stroke-width="0.5"/>
<circle cx="309.8" cy="114.8" r="4.2" fill="#ff0000" stroke="#330000" stroke-width="0.5"/>
<circle cx="310.5" cy="119.9" r="4.2" fill="#ff0000" stroke="#330000" stroke-width="0.5"/>
<circle cx="320.3" cy="120.5" r="4.2" fill="#ff0000" stroke="#330000" stroke-width="0.5"/>
<circle cx="328.5" cy="120.5" r="4.2" fill="#ff0000" stroke="#330000" stroke-width="0.5"/>
<circle cx="334.6" cy="115.8" r="4.2" fill="#ff0000" stroke="#330000" stroke-width="0.5"/>
<circle cx="295.8" cy="121.2" r="4.2" fill="#ff0000" stroke="#330000" stroke-width="0.5"/>
<circle cx="315.2" cy="133.3" r="4.2" fill="#ff0000" stroke="#330000" stroke-width="0.5"/>
<circle cx="300.0" cy="137.7" r="4.2" fill="#ff0000" stroke="#330000" stroke-width="0.5"/>
<circle cx="308.8" cy="139.9" r="4.2" fill="#ff0000" stroke="#330000" stroke-width="0.5"/>
<circle cx="314.9" cy="163.6" r="4.2" fill="#ff0000" stroke="#330000" stroke-width="0.5"/>
<circle cx="334.6" cy="162.3" r="4.2" fill="#ff0000" stroke="#330000" stroke-width="0.5"/>
<circle cx="348.3" cy="163.8" r="4.2" fill="#ff0000" stroke="#330000" stroke-width="0.5"/>
<circle cx="332.3" cy="178.5" r="4.2" fill="#ff0000" stroke="#330000" stroke-width="0.5"/>
<circle cx="330.4" cy="136.2" r="4.2" fill="#ff0000" stroke="#330000" stroke-width="0.5"/>
<circle cx="335.3" cy="134.5" r="4.2" fill="#ff0000" stroke="#330000" stroke-width="0.5"/>
<circle cx="331.5" cy="140.9" r="4.2" fill="#ff0000" stroke="#330000" stroke-width="0.5"/>
<circle cx="343.2" cy="141.3" r="4.2" fill="#ff0000" stroke="#330000" stroke-width="0.5"/>
<circle cx="336.3" cy="149.8" r="4.2" fill="#ff0000" stroke="#330000" stroke-width="0.5"/>
<circle cx="344.8" cy="148.8" r="4.2" fill="#ff0000" stroke="#330000" stroke-width="0.5"/>
<circle cx="353.7" cy="143.5" r="4.2" fill="#ff0000" stroke="#330000" stroke-width="0.5"/>
<circle cx="388.5" cy="70.3" r="4.2" fill="#ff0000" stroke="#330000" stroke-width="0.5"/>
<circle cx="408.2" cy="65.8" r="4.2" fill="#ff0000" stroke="#330000" stroke-width="0.5"/>
<circle cx="405.9" cy="70.4" r="4.2" fill="#ff0000" stroke="#330000" stroke-width="0.5"/>
<circle cx="401.0" cy="76.3" r="4.2" fill="#ff0000" stroke="#330000" stroke-width="0.5"/>
<circle cx="385.5" cy="87.5" r="4.2" fill="#ff0000" stroke="#330000" stroke-width="0.5"/>
<circle cx="391.5" cy="95.5" r="4.2" fill="#ff0000" stroke="#330000" stroke-width="0.5"/>
<circle cx="398.5" cy="93.8" r="4.2" fill="#ff0000" stroke="#330000" stroke-width="0.5"/>
<circle cx="385.1" cy="100.2" r="4.2" fill="#ff0000" stroke="#330000" stroke-width="0.5"/>
<circle cx="374.3" cy="107.5" r="4.2" fill="#ff0000" stroke="#330000" stroke-width="0.5"/>
<circle cx="385.7" cy="107.7" r="4.2" fill="#ff0000" stroke="#330000" stroke-width="0.5"/>
<circle cx="402.3" cy="103.5" r="4.2" fill="#ff0000" stroke="#330000" stroke-width="0.5"/>
<circle cx="413.7" cy="84.9" r="4.2" fill="#ff0000" stroke="#330000" stroke-width="0.5"/>
<circle cx="404.8" cy="91.9" r="4.2" fill="#ff0000" stroke="#330000" stroke-width="0.5"/>
<circle cx="393.4" cy="105.9" r="4.2" fill="#ff0000" stroke="#330000" stroke-width="0.5"/>
<circle cx="378.1" cy="114.6" r="4.2" fill="#ff0000" stroke="#330000" stroke-width="0.5"/>
<circle cx="386.4" cy="112.7" r="4.2" fill="#ff0000" stroke="#330000" stroke-width="0.5"/>
<circle cx="376.2" cy="117.2" r="4.2" fill="#ff0000" stroke="#330000" stroke-width="0.5"/>
<circle cx="369.2" cy="122.3" r="4.2" fill="#ff0000" stroke="#330000" stroke-width="0.5"/>
<circle cx="360.3" cy="129.3" r="4.2" fill="#ff0000" stroke="#330000" stroke-width="0.5"/>
<circle cx="367.3" cy="135.0" r="4.2" fill="#ff0000" stroke="#330000" stroke-width="0.5"/>
<circle cx="371.7" cy="138.8" r="4.2" fill="#ff0000" stroke="#330000" stroke-width="0.5"/>
<circle cx="383.2" cy="121.6" r="4.2" fill="#ff0000" stroke="#330000" stroke-width="0.5"/>
<circle cx="390.2" cy="122.9" r="4.2" fill="#ff0000" stroke="#330000" stroke-width="0.5"/>
<circle cx="386.4" cy="128.0" r="4.2" fill="#ff0000" stroke="#330000" stroke-width="0.5"/>
<circle cx="392.7" cy="126.7" r="4.2" fill="#ff0000" stroke="#330000" stroke-width="0.5"/>
<circle cx="389.5" cy="138.2" r="4.2" fill="#ff0000" stroke="#330000" stroke-width="0.5"/>
<circle cx="394.0" cy="136.3" r="4.2" fill="#ff0000" stroke="#330000" stroke-width="0.5"/>
<circle cx="402.9" cy="124.8" r="4.2" fill="#ff0000" stroke="#330000" stroke-width="0.5"/>
<circle cx="401.0" cy="121.0" r="4.2" fill="#ff0000" stroke="#330000" stroke-width="0.5"/>
<circle cx="407.4" cy="132.5" r="4.2" fill="#ff0000" stroke="#330000" stroke-width="0.5"/>
<circle cx="404.2" cy="130.5" r="4.2" fill="#ff0000" stroke="#330000" stroke-width="0.5"/>
<circle cx="392.1" cy="116.5" r="4.2" fill="#ff0000" stroke="#330000" stroke-width="0.5"/>
<circle cx="395.9" cy="109.5" r="4.2" fill="#ff0000" stroke="#330000" stroke-width="0.5"/>
<circle cx="403.5" cy="112.7" r="4.2" fill="#ff0000" stroke="#330000" stroke-width="0.5"/>
<circle cx="410.5" cy="114.6" r="4.2" fill="#ff0000" stroke="#330000" stroke-width="0.5"/>
<circle cx="379.7" cy="173.6" r="4.2" fill="#ff0000" stroke="#330000" stroke-width="0.5"/>
<circle cx="418.3" cy="75.4" r="4.2" fill="#ff0000" stroke="#330000" stroke-width="0.5"/>
<circle cx="447.6" cy="73.5" r="4.2" fill="#ff0000" stroke="#330000" stroke-width="0.5"/>
<circle cx="446.5" cy="80.5" r="4.2" fill="#ff0000" stroke="#330000" stroke-width="0.5"/>
<circle cx="414.7" cy="88.7" r="4.2" fill="#ff0000" stroke="#330000" stroke-width="0.5"/>
<circle cx="424.9" cy="89.4" r="4.2" fill="#ff0000" stroke="#330000" stroke-width="0.5"/>
<circle cx="435.1" cy="91.3" r="4.2" fill="#ff0000" stroke="#330000" stroke-width="0.5"/>
<circle cx="447.2" cy="90.0" r="4.2" fill="#ff0000" stroke="#330000" stroke-width="0.5"/>
<circle cx="454.2" cy="84.9" r="4.2" fill="#ff0000" stroke="#330000" stroke-width="0.5"/>
<circle cx="455.5" cy="90.0" r="4.2" fill="#ff0000" stroke="#330000" stroke-width="0.5"/>
<circle cx="459.9" cy="94.5" r="4.2" fill="#ff0000" stroke="#330000" stroke-width="0.5"/>
<circle cx="463.7" cy="76.0" r="4.2" fill="#ff0000" stroke="#330000" stroke-width="0.5"/>
<circle cx="463.7" cy="82.4" r="4.2" fill="#ff0000" stroke="#330000" stroke-width="0.5"/>
<circle cx="410.9" cy="95.7" r="4.2" fill="#ff0000" stroke="#330000" stroke-width="0.5"/>
<circle cx="418.5" cy="95.1" r="4.2" fill="#ff0000" stroke="#330000" stroke-width="0.5"/>
<circle cx="425.5" cy="98.3" r="4.2" fill="#ff0000" stroke="#330000" stroke-width="0.5"/>
<circle cx="419.2" cy="105.3" r="4.2" fill="#ff0000" stroke="#330000" stroke-width="0.5"/>
<circle cx="409.0" cy="106.5" r="4.2" fill="#ff0000" stroke="#330000" stroke-width="0.5"/>
<circle cx="429.4" cy="107.2" r="4.2" fill="#ff0000" stroke="#330000" stroke-width="0.5"/>
<circle cx="433.2" cy="97.0" r="4.2" fill="#ff0000" stroke="#330000" stroke-width="0.5"/>
<circle cx="440.8" cy="98.3" r="4.2" fill="#ff0000" stroke="#330000" stroke-width="0.5"/>
<circle cx="445.3" cy="94.5" r="4.2" fill="#ff0000" stroke="#330000" stroke-width="0.5"/>
<circle cx="451.0" cy="97.0" r="4.2" fill="#ff0000" stroke="#330000" stroke-width="0.5"/>
<circle cx="455.5" cy="100.2" r="4.2" fill="#ff0000" stroke="#330000" stroke-width="0.5"/>
<circle cx="438.3" cy="85.5" r="4.2" fill="#ff0000" stroke="#330000" stroke-width="0.5"/>
<circle cx="431.9" cy="86.8" r="4.2" fill="#ff0000" stroke="#330000" stroke-width="0.5"/>
<circle cx="421.7" cy="86.2" r="4.2" fill="#ff0000" stroke="#330000" stroke-width="0.5"/>
<circle cx="459.3" cy="110.4" r="4.2" fill="#ff0000" stroke="#330000" stroke-width="0.5"/>
<circle cx="439.5" cy="110.4" r="4.2" fill="#ff0000" stroke="#330000" stroke-width="0.5"/>
<circle cx="414.1" cy="108.5" r="4.2" fill="#ff0000" stroke="#330000" stroke-width="0.5"/>
<circle cx="469.0" cy="69.6" r="4.2" fill="#ff0000" stroke="#330000" stroke-width="0.5"/>
<circle cx="478.8" cy="74.3" r="4.2" fill="#ff0000" stroke="#330000" stroke-width="0.5"/>
<circle cx="484.0" cy="78.8" r="4.2" fill="#ff0000" stroke="#330000" stroke-width="0.5"/>
<circle cx="471.9" cy="80.5" r="4.2" fill="#ff0000" stroke="#330000" stroke-width="0.5"/>
<circle cx="474.7" cy="86.2" r="4.2" fill="#ff0000" stroke="#330000" stroke-width="0.5"/>
<circle cx="474.1" cy="90.4" r="4.2" fill="#ff0000" stroke="#330000" stroke-width="0.5"/>
<circle cx="475.4" cy="93.8" r="4.2" fill="#ff0000" stroke="#330000" stroke-width="0.5"/>
<circle cx="463.9" cy="90.0" r="4.2" fill="#ff0000" stroke="#330000" stroke-width="0.5"/>
<circle cx="477.9" cy="103.4" r="4.2" fill="#ff0000" stroke="#330000" stroke-width="0.5"/>
<circle cx="491.9" cy="97.6" r="4.2" fill="#ff0000" stroke="#330000" stroke-width="0.5"/>
<circle cx="500.4" cy="69.9" r="4.2" fill="#ff0000" stroke="#330000" stroke-width="0.5"/>
<circle cx="496.7" cy="84.3" r="4.2" fill="#ff0000" stroke="#330000" stroke-width="0.5"/>
<circle cx="503.4" cy="84.5" r="4.2" fill="#ff0000" stroke="#330000" stroke-width="0.5"/>
<circle cx="458.8" cy="112.2" r="4.2" fill="#ff0000" stroke="#330000" stroke-width="0.5"/>
<circle cx="440.6" cy="113.5" r="4.2" fill="#ff0000" stroke="#330000" stroke-width="0.5"/>
<circle cx="415.8" cy="122.6" r="4.2" fill="#ff0000" stroke="#330000" stroke-width="0.5"/>
<circle cx="440.0" cy="138.9" r="4.2" fill="#ff0000" stroke="#330000" stroke-width="0.5"/>
<circle cx="435.2" cy="145.7" r="4.2" fill="#ff0000" stroke="#330000" stroke-width="0.5"/>
<circle cx="419.0" cy="111.5" r="4.2" fill="#ff0000" stroke="#330000" stroke-width="0.5"/>
<circle cx="426.6" cy="114.7" r="4.2" fill="#ff0000" stroke="#330000" stroke-width="0.5"/>
<circle cx="432.4" cy="114.1" r="4.2" fill="#ff0000" stroke="#330000" stroke-width="0.5"/>
<circle cx="441.9" cy="100.1" r="4.2" fill="#ff0000" stroke="#330000" stroke-width="0.5"/>
<circle cx="448.3" cy="97.5" r="4.2" fill="#ff0000" stroke="#330000" stroke-width="0.5"/>
<circle cx="474.4" cy="102.6" r="4.2" fill="#ff0000" stroke="#330000" stroke-width="0.5"/>
<circle cx="407.5" cy="105.2" r="4.2" fill="#ff0000" stroke="#330000" stroke-width="0.5"/>
<circle cx="413.9" cy="103.9" r="4.2" fill="#ff0000" stroke="#330000" stroke-width="0.5"/>
<circle cx="428.5" cy="117.3" r="4.2" fill="#ff0000" stroke="#330000" stroke-width="0.5"/>
<circle cx="421.5" cy="114.1" r="4.2" fill="#ff0000" stroke="#330000" stroke-width="0.5"/>
<circle cx="481.5" cy="132.5" r="4.2" fill="#ff0000" stroke="#330000" stroke-width="0.5"/>
<circle cx="440.4" cy="31.3" r="4.2" fill="#ff0000" stroke="#330000" stroke-width="0.5"/>
</g>
<g>
<rect x="407.4" y="313.5" width="7.6" height="7.6" fill="#228b22" stroke="#123d12" stroke-width="0.5"/>
<rect x="434.1" y="326.1" width="7.6" height="7.6" fill="#228b22" stroke="#123d12" stroke-width="0.5"/>
<rect x="409.7" y="318.2" width="7.6" height="7.6" fill="#228b22" stroke="#123d12" stroke-width="0.5"/>
<rect x="379.3" y="300.6" width="7.6" height="7.6" fill="#228b22" stroke="#123d12" stroke-width="0.5"/>
<rect x="402.8" y="330.8" width="7.6" height="7.6" fill="#228b22" stroke="#123d12" stroke-width="0.5"/>
<rect x="464.1" y="325.8" width="7.6" height="7.6" fill="#228b22" stroke="#123d12" stroke-width="0.5"/>
<rect x="427.3" y="322.9" width="7.6" height="7.6" fill="#228b22" stroke="#123d12" stroke-width="0.5"/>
<rect x="382.4" y="321.5" width="7.6" height="7.6" fill="#228b22" stroke="#123d12" stroke-width="0.5"/>
<rect x="474.0" y="327.3" width="7.6" height="7.6" fill="#228b22" stroke="#123d12" stroke-width="0.5"/>
<rect x="417.9" y="321.6" width="7.6" height="7.6" fill="#228b22" stroke="#123d12" stroke-width="0.5"/>
<rect x="387.0" y="322.9" width="7.6" height="7.6" fill="#228b22" stroke="#123d12" stroke-width="0.5"/>
<rect x="392.8" y="314.0" width="7.6" height="7.6" fill="#228b22" stroke="#123d12" stroke-width="0.5"/>
<rect x="441.6" y="330.3" width="7.6" height="7.6" fill="#228b22" stroke="#123d12" stroke-width="0.5"/>
<rect x="414.7" y="317.2" width="7.6" height="7.6" fill="#228b22" stroke="#123d12" stroke-width="0.5"/>
<rect x="412.7" y="322.7" width="7.6" height="7.6" fill="#228b22" stroke="#123d12" stroke-width="0.5"/>
<rect x="401.4" y="312.8" width="7.6" height="7.6" fill="#228b22" stroke="#123d12" stroke-width="0.5"/>
<rect x="401.4" y="321.4" width="7.6" height="7.6" fill="#228b22" stroke="#123d12" stroke-width="0.5"/>
<rect x="414.9" y="326.2" width="7.6" height="7.6" fill="#228b22" stroke="#123d12" stroke-width="0.5"/>
<rect x="429.9" y="335.2" width="7.6" height="7.6" fill="#228b22" stroke="#123d12" stroke-width="0.5"/>
<rect x="436.4" y="331.6" width="7.6" height="7.6" fill="#228b22" stroke="#123d12" stroke-width="0.5"/>
<rect x="375.5" y="309.0" width="7.6" height="7.6" fill="#228b22" stroke="#123d12" stroke-width="0.5"/>
<rect x="422.8" y="330.6" width="7.6" height="7.6" fill="#228b22" stroke="#123d12" stroke-width="0.5"/>
<rect x="381.5" y="304.3" width="7.6" height="7.6" fill="#228b22" stroke="#123d12" stroke-width="0.5"/>
<rect x="387.7" y="304.6" width="7.6" height="7.6" fill="#228b22" stroke="#123d12" stroke-width="0.5"/>
<rect x="425.0" y="335.5" width="7.6" height="7.6" fill="#228b22" stroke="#123d12" stroke-width="0.5"/>
<rect x="389.7" y="317.6" width="7.6" height="7.6" fill="#228b22" stroke="#123d12" stroke-width="0.5"/>
<rect x="449.9" y="334.8" width="7.6" height="7.6" fill="#228b22" stroke="#123d12" stroke-width="0.5"/>
<rect x="431.4" y="331.4" width="7.6" height="7.6" fill="#228b22" stroke="#123d12" stroke-width="0.5"/>
<rect x="399.9" y="326.0" width="7.6" height="7.6" fill="#228b22" stroke="#123d12" stroke-width="0.5"/>
<rect x="372.8" y="322.0" width="7.6" height="7.6" fill="#228b22" stroke="#123d12" stroke-width="0.5"/>
<rect x="410.5" y="327.2" width="7.6" height="7.6" fill="#228b22" stroke="#123d12" stroke-width="0.5"/>
<rect x="394.5" y="327.2" width="7.6" height="7.6" fill="#228b22" stroke="#123d12" stroke-width="0.5"/>
<rect x="424.3" y="327.2" width="7.6" height="7.6" fill="#228b22" stroke="#123d12" stroke-width="0.5"/>
<rect x="419.0" y="326.1" width="7.6" height="7.6" fill="#228b22" stroke="#123d12" stroke-width="0.5"/>
<rect x="377.3" y="321.9" width="7.6" height="7.6" fill="#228b22" stroke="#123d12" stroke-width="0.5"/>
<rect x="419.3" y="318.4" width="7.6" height="7.6" fill="#228b22" stroke="#123d12" stroke-width="0.5"/>
<rect x="394.8" y="318.5" width="7.6" height="7.6" fill="#228b22" stroke="#123d12" stroke-width="0.5"/>
<rect x="380.3" y="309.4" width="7.6" height="7.6" fill="#228b22" stroke="#123d12" stroke-width="0.5"/>
<rect x="406.5" y="330.3" width="7.6" height="7.6" fill="#228b22" stroke="#123d12" stroke-width="0.5"/>
<rect x="370.4" y="309.3" width="7.6" height="7.6" fill="#228b22" stroke="#123d12" stroke-width="0.5"/>
<rect x="417.0" y="331.1" width="7.6" height="7.6" fill="#228b22" stroke="#123d12" stroke-width="0.5"/>
<rect x="439.4" y="327.2" width="7.6" height="7.6" fill="#228b22" stroke="#123d12" stroke-width="0.5"/>
<rect x="432.6" y="322.9" width="7.6" height="7.6" fill="#228b22" stroke="#123d12" stroke-width="0.5"/>
<rect x="450.0" y="326.6" width="7.6" height="7.6" fill="#228b22" stroke="#123d12" stroke-width="0.5"/>
<rect x="404.0" y="327.3" width="7.6" height="7.6" fill="#228b22" stroke="#123d12" stroke-width="0.5"/>
<rect x="436.6" y="322.4" width="7.6" height="7.6" fill="#228b22" stroke="#123d12" stroke-width="0.5"/>
<rect x="459.7" y="326.0" width="7.6" height="7.6" fill="#228b22" stroke="#123d12" stroke-width="0.5"/>
<rect x="444.2" y="327.0" width="7.6" height="7.6" fill="#228b22" stroke="#123d12" stroke-width="0.5"/>
<rect x="379.6" y="325.7" width="7.6" height="7.6" fill="#228b22" stroke="#123d12" stroke-width="0.5"/>
<rect x="390.0" y="326.7" width="7.6" height="7.6" fill="#228b22" stroke="#123d12" stroke-width="0.5"/>
<rect x="389.7" y="308.5" width="7.6" height="7.6" fill="#228b22" stroke="#123d12" stroke-width="0.5"/>
<rect x="420.3" y="335.8" width="7.6" height="7.6" fill="#228b22" stroke="#123d12" stroke-width="0.5"/>
<rect x="396.9" y="321.9" width="7.6" height="7.6" fill="#228b22" stroke="#123d12" stroke-width="0.5"/>
<rect x="384.2" y="326.6" width="7.6" height="7.6" fill="#228b22" stroke="#123d12" stroke-width="0.5"/>
<rect x="442.5" y="322.6" width="7.6" height="7.6" fill="#228b22" stroke="#123d12" stroke-width="0.5"/>
<rect x="427.0" y="330.7" width="7.6" height="7.6" fill="#228b22" stroke="#123d12" stroke-width="0.5"/>
<rect x="387.3" y="331.2" width="7.6" height="7.6" fill="#228b22" stroke="#123d12" stroke-width="0.5"/>
<rect x="416.6" y="313.3" width="7.6" height="7.6" fill="#228b22" stroke="#123d12" stroke-width="0.5"/>
<rect x="382.8" y="331.2" width="7.6" height="7.6" fill="#228b22" stroke="#123d12" stroke-width="0.5"/>
<rect x="372.0" y="305.6" width="7.6" height="7.6" fill="#228b22" stroke="#123d12" stroke-width="0.5"/>
<rect x="397.2" y="313.6" width="7.6" height="7.6" fill="#228b22" stroke="#123d12" stroke-width="0.5"/>
<rect x="382.8" y="313.0" width="7.6" height="7.6" fill="#228b22" stroke="#123d12" stroke-width="0.5"/>
<rect x="451.8" y="330.9" width="7.6" height="7.6" fill="#228b22" stroke="#123d12" stroke-width="0.5"/>
<rect x="384.2" y="317.3" width="7.6" height="7.6" fill="#228b22" stroke="#123d12" stroke-width="0.5"/>
<rect x="376.9" y="304.1" width="7.6" height="7.6" fill="#228b22" stroke="#123d12" stroke-width="0.5"/>
<rect x="379.2" y="318.4" width="7.6" height="7.6" fill="#228b22" stroke="#123d12" stroke-width="0.5"/>
<rect x="385.2" y="309.6" width="7.6" height="7.6" fill="#228b22" stroke="#123d12" stroke-width="0.5"/>
<rect x="412.8" y="313.7" width="7.6" height="7.6" fill="#228b22" stroke="#123d12" stroke-width="0.5"/>
<rect x="391.7" y="322.4" width="7.6" height="7.6" fill="#228b22" stroke="#123d12" stroke-width="0.5"/>
<rect x="407.9" y="322.7" width="7.6" height="7.6" fill="#228b22" stroke="#123d12" stroke-width="0.5"/>
<rect x="457.2" y="331.2" width="7.6" height="7.6" fill="#228b22" stroke="#123d12" stroke-width="0.5"/>
<rect x="377.8" y="313.6" width="7.6" height="7.6" fill="#228b22" stroke="#123d12" stroke-width="0.5"/>
<rect x="469.4" y="325.9" width="7.6" height="7.6" fill="#228b22" stroke="#123d12" stroke-width="0.5"/>
<rect x="424.5" y="318.3" width="7.6" height="7.6" fill="#228b22" stroke="#123d12" stroke-width="0.5"/>
<rect x="439.0" y="335.5" width="7.6" height="7.6" fill="#228b22" stroke="#123d12" stroke-width="0.5"/>
<rect x="454.2" y="334.5" width="7.6" height="7.6" fill="#228b22" stroke="#123d12" stroke-width="0.5"/>
<rect x="400.0" y="317.1" width="7.6" height="7.6" fill="#228b22" stroke="#123d12" stroke-width="0.5"/>
<rect x="412.8" y="330.4" width="7.6" height="7.6" fill="#228b22" stroke="#123d12" stroke-width="0.5"/>
<rect x="430.3" y="327.0" width="7.6" height="7.6" fill="#228b22" stroke="#123d12" stroke-width="0.5"/>
<rect x="384.7" y="300.3" width="7.6" height="7.6" fill="#228b22" stroke="#123d12" stroke-width="0.5"/>
<rect x="422.3" y="322.2" width="7.6" height="7.6" fill="#228b22" stroke="#123d12" stroke-width="0.5"/>
<rect x="387.5" y="313.2" width="7.6" height="7.6" fill="#228b22" stroke="#123d12" stroke-width="0.5"/>
<rect x="455.4" y="326.1" width="7.6" height="7.6" fill="#228b22" stroke="#123d12" stroke-width="0.5"/>
<rect x="415.2" y="335.8" width="7.6" height="7.6" fill="#228b22" stroke="#123d12" stroke-width="0.5"/>
<rect x="435.5" y="334.9" width="7.6" height="7.6" fill="#228b22" stroke="#123d12" stroke-width="0.5"/>
<rect x="430.5" y="318.1" width="7.6" height="7.6" fill="#228b22" stroke="#123d12" stroke-width="0.5"/>
<rect x="404.4" y="317.9" width="7.6" height="7.6" fill="#228b22" stroke="#123d12" stroke-width="0.5"/>
<rect x="372.7" y="314.0" width="7.6" height="7.6" fill="#228b22" stroke="#123d12" stroke-width="0.5"/>
<rect x="447.8" y="331.4" width="7.6" height="7.6" fill="#228b22" stroke="#123d12" stroke-width="0.5"/>
<rect x="374.6" y="318.3" width="7.6" height="7.6" fill="#228b22" stroke="#123d12" stroke-width="0.5"/>
<rect x="89.1" y="363.5" width="7.6" height="7.6" fill="#228b22" stroke="#123d12" stroke-width="0.5"/>
<rect x="112.4" y="360.7" width="7.6" height="7.6" fill="#228b22" stroke="#123d12" stroke-width="0.5"/>
<rect x="114.0" y="362.7" width="7.6" height="7.6" fill="#228b22" stroke="#123d12" stroke-width="0.5"/>
<rect x="115.9" y="339.1" width="7.6" height="7.6" fill="#228b22" stroke="#123d12" stroke-width="0.5"/>
<rect x="127.0" y="339.1" width="7.6" height="7.6" fill="#228b22" stroke="#123d12" stroke-width="0.5"/>
<rect x="123.2" y="344.8" width="7.6" height="7.6" fill="#228b22" stroke="#123d12" stroke-width="0.5"/>
<rect x="125.5" y="328.3" width="7.6" height="7.6" fill="#228b22" stroke="#123d12" stroke-width="0.5"/>
<rect x="152.0" y="316.7" width="7.6" height="7.6" fill="#228b22" stroke="#123d12" stroke-width="0.5"/>
<rect x="157.5" y="322.4" width="7.6" height="7.6" fill="#228b22" stroke="#123d12" stroke-width="0.5"/>
<rect x="172.6" y="310.3" width="7.6" height="7.6" fill="#228b22" stroke="#123d12" stroke-width="0.5"/>
<rect x="178.5" y="310.3" width="7.6" height="7.6" fill="#228b22" stroke="#123d12" stroke-width="0.5"/>
<rect x="178.1" y="316.7" width="7.6" height="7.6" fill="#228b22" stroke="#123d12" stroke-width="0.5"/>
<rect x="184.5" y="316.0" width="7.6" height="7.6" fill="#228b22" stroke="#123d12" stroke-width="0.5"/>
<rect x="181.3" y="318.6" width="7.6" height="7.6" fill="#228b22" stroke="#123d12" stroke-width="0.5"/>
<rect x="194.0" y="312.8" width="7.6" height="7.6" fill="#228b22" stroke="#123d12" stroke-width="0.5"/>
<rect x="197.2" y="315.4" width="7.6" height="7.6" fill="#228b22" stroke="#123d12" stroke-width="0.5"/>
<rect x="197.2" y="318.6" width="7.6" height="7.6" fill="#228b22" stroke="#123d12" stroke-width="0.5"/>
<rect x="200.4" y="306.5" width="7.6" height="7.6" fill="#228b22" stroke="#123d12" stroke-width="0.5"/>
<rect x="203.6" y="301.4" width="7.6" height="7.6" fill="#228b22" stroke="#123d12" stroke-width="0.5"/>
<rect x="209.3" y="311.6" width="7.6" height="7.6" fill="#228b22" stroke="#123d12" stroke-width="0.5"/>
<rect x="209.9" y="293.7" width="7.6" height="7.6" fill="#228b22" stroke="#123d12" stroke-width="0.5"/>
<rect x="209.9" y="317.9" width="7.6" height="7.6" fill="#228b22" stroke="#123d12" stroke-width="0.5"/>
<rect x="210.4" y="291.9" width="7.6" height="7.6" fill="#228b22" stroke="#123d12" stroke-width="0.5"/>
<rect x="217.5" y="296.4" width="7.6" height="7.6" fill="#228b22" stroke="#123d12" stroke-width="0.5"/>
<rect x="226.0" y="293.8" width="7.6" height="7.6" fill="#228b22" stroke="#123d12" stroke-width="0.5"/>
<rect x="224.1" y="302.7" width="7.6" height="7.6" fill="#228b22" stroke="#123d12" stroke-width="0.5"/>
<rect x="242.6" y="292.6" width="7.6" height="7.6" fill="#228b22" stroke="#123d12" stroke-width="0.5"/>
<rect x="234.9" y="287.5" width="7.6" height="7.6" fill="#228b22" stroke="#123d12" stroke-width="0.5"/>
<rect x="231.4" y="312.3" width="7.6" height="7.6" fill="#228b22" stroke="#123d12" stroke-width="0.5"/>
<rect x="250.8" y="309.7" width="7.6" height="7.6" fill="#228b22" stroke="#123d12" stroke-width="0.5"/>
<rect x="210.1" y="316.1" width="7.6" height="7.6" fill="#228b22" stroke="#123d12" stroke-width="0.5"/>
<rect x="215.8" y="321.2" width="7.6" height="7.6" fill="#228b22" stroke="#123d12" stroke-width="0.5"/>
<rect x="206.9" y="304.0" width="7.6" height="7.6" fill="#228b22" stroke="#123d12" stroke-width="0.5"/>
<rect x="211.4" y="319.9" width="7.6" height="7.6" fill="#228b22" stroke="#123d12" stroke-width="0.5"/>
<rect x="268.1" y="229.9" width="7.6" height="7.6" fill="#228b22" stroke="#123d12" stroke-width="0.5"/>
<rect x="270.4" y="240.1" width="7.6" height="7.6" fill="#228b22" stroke="#123d12" stroke-width="0.5"/>
<rect x="256.6" y="254.1" width="7.6" height="7.6" fill="#228b22" stroke="#123d12" stroke-width="0.5"/>
<rect x="259.6" y="261.1" width="7.6" height="7.6" fill="#228b22" stroke="#123d12" stroke-width="0.5"/>
<rect x="254.5" y="262.4" width="7.6" height="7.6" fill="#228b22" stroke="#123d12" stroke-width="0.5"/>
<rect x="246.8" y="263.7" width="7.6" height="7.6" fill="#228b22" stroke="#123d12" stroke-width="0.5"/>
<rect x="243.0" y="268.1" width="7.6" height="7.6" fill="#228b22" stroke="#123d12" stroke-width="0.5"/>
<rect x="239.8" y="271.3" width="7.6" height="7.6" fill="#228b22" stroke="#123d12" stroke-width="0.5"/>
<rect x="247.5" y="273.2" width="7.6" height="7.6" fill="#228b22" stroke="#123d12" stroke-width="0.5"/>
<rect x="258.9" y="267.5" width="7.6" height="7.6" fill="#228b22" stroke="#123d12" stroke-width="0.5"/>
<rect x="251.9" y="268.7" width="7.6" height="7.6" fill="#228b22" stroke="#123d12" stroke-width="0.5"/>
<rect x="273.9" y="259.6" width="7.6" height="7.6" fill="#228b22" stroke="#123d12" stroke-width="0.5"/>
<rect x="272.0" y="268.7" width="7.6" height="7.6" fill="#228b22" stroke="#123d12" stroke-width="0.5"/>
<rect x="232.8" y="277.7" width="7.6" height="7.6" fill="#228b22" stroke="#123d12" stroke-width="0.5"/>
<rect x="239.2" y="278.9" width="7.6" height="7.6" fill="#228b22" stroke="#123d12" stroke-width="0.5"/>
<rect x="234.1" y="285.6" width="7.6" height="7.6" fill="#228b22" stroke="#123d12" stroke-width="0.5"/>
<rect x="268.5" y="283.0" width="7.6" height="7.6" fill="#228b22" stroke="#123d12" stroke-width="0.5"/>
<rect x="279.9" y="285.6" width="7.6" height="7.6" fill="#228b22" stroke="#123d12" stroke-width="0.5"/>
<rect x="296.3" y="235.0" width="7.6" height="7.6" fill="#228b22" stroke="#123d12" stroke-width="0.5"/>
<rect x="291.6" y="248.0" width="7.6" height="7.6" fill="#228b22" stroke="#123d12" stroke-width="0.5"/>
<rect x="331.0" y="238.8" width="7.6" height="7.6" fill="#228b22" stroke="#123d12" stroke-width="0.5"/>
<rect x="324.7" y="246.9" width="7.6" height="7.6" fill="#228b22" stroke="#123d12" stroke-width="0.5"/>
<rect x="331.0" y="249.0" width="7.6" height="7.6" fill="#228b22" stroke="#123d12" stroke-width="0.5"/>
<rect x="332.9" y="251.6" width="7.6" height="7.6" fill="#228b22" stroke="#123d12" stroke-width="0.5"/>
<rect x="328.1" y="253.5" width="7.6" height="7.6" fill="#228b22" stroke="#123d12" stroke-width="0.5"/>
<rect x="331.0" y="256.7" width="7.6" height="7.6" fill="#228b22" stroke="#123d12" stroke-width="0.5"/>
<rect x="310.9" y="254.7" width="7.6" height="7.6" fill="#228b22" stroke="#123d12" stroke-width="0.5"/>
<rect x="308.7" y="261.1" width="7.6" height="7.6" fill="#228b22" stroke="#123d12" stroke-width="0.5"/>
<rect x="304.9" y="263.7" width="7.6" height="7.6" fill="#228b22" stroke="#123d12" stroke-width="0.5"/>
<rect x="288.0" y="264.9" width="7.6" height="7.6" fill="#228b22" stroke="#123d12" stroke-width="0.5"/>
<rect x="287.4" y="268.1" width="7.6" height="7.6" fill="#228b22" stroke="#123d12" stroke-width="0.5"/>
<rect x="285.2" y="270.7" width="7.6" height="7.6" fill="#228b22" stroke="#123d12" stroke-width="0.5"/>
<rect x="318.3" y="273.2" width="7.6" height="7.6" fill="#228b22" stroke="#123d12" stroke-width="0.5"/>
<rect x="309.4" y="273.2" width="7.6" height="7.6" fill="#228b22" stroke="#123d12" stroke-width="0.5"/>
<rect x="327.2" y="270.7" width="7.6" height="7.6" fill="#228b22" stroke="#123d12" stroke-width="0.5"/>
<rect x="337.4" y="268.1" width="7.6" height="7.6" fill="#228b22" stroke="#123d12" stroke-width="0.5"/>
<rect x="340.6" y="277.0" width="7.6" height="7.6" fill="#228b22" stroke="#123d12" stroke-width="0.5"/>
<rect x="306.2" y="287.8" width="7.6" height="7.6" fill="#228b22" stroke="#123d12" stroke-width="0.5"/>
<rect x="316.4" y="304.4" width="7.6" height="7.6" fill="#228b22" stroke="#123d12" stroke-width="0.5"/>
<rect x="338.7" y="291.0" width="7.6" height="7.6" fill="#228b22" stroke="#123d12" stroke-width="0.5"/>
<rect x="384.4" y="274.2" width="7.6" height="7.6" fill="#228b22" stroke="#123d12" stroke-width="0.5"/>
<rect x="381.5" y="277.0" width="7.6" height="7.6" fill="#228b22" stroke="#123d12" stroke-width="0.5"/>
<rect x="374.5" y="280.2" width="7.6" height="7.6" fill="#228b22" stroke="#123d12" stroke-width="0.5"/>
<rect x="375.7" y="282.1" width="7.6" height="7.6" fill="#228b22" stroke="#123d12" stroke-width="0.5"/>
<rect x="381.5" y="285.3" width="7.6" height="7.6" fill="#228b22" stroke="#123d12" stroke-width="0.5"/>
<rect x="387.2" y="291.0" width="7.6" height="7.6" fill="#228b22" stroke="#123d12" stroke-width="0.5"/>
<rect x="356.0" y="291.7" width="7.6" height="7.6" fill="#228b22" stroke="#123d12" stroke-width="0.5"/>
<rect x="363.4" y="292.5" width="7.6" height="7.6" fill="#228b22" stroke="#123d12" stroke-width="0.5"/>
<rect x="372.8" y="292.5" width="7.6" height="7.6" fill="#228b22" stroke="#123d12" stroke-width="0.5"/>
<rect x="373.8" y="299.0" width="7.6" height="7.6" fill="#228b22" stroke="#123d12" stroke-width="0.5"/>
<rect x="350.9" y="300.6" width="7.6" height="7.6" fill="#228b22" stroke="#123d12" stroke-width="0.5"/>
<rect x="343.9" y="296.1" width="7.6" height="7.6" fill="#228b22" stroke="#123d12" stroke-width="0.5"/>
<rect x="365.6" y="312.7" width="7.6" height="7.6" fill="#228b22" stroke="#123d12" stroke-width="0.5"/>
<rect x="393.6" y="300.6" width="7.6" height="7.6" fill="#228b22" stroke="#123d12" stroke-width="0.5"/>
<rect x="399.9" y="300.6" width="7.6" height="7.6" fill="#228b22" stroke="#123d12" stroke-width="0.5"/>
<rect x="370.7" y="315.8" width="7.6" height="7.6" fill="#228b22" stroke="#123d12" stroke-width="0.5"/>
<rect x="393.6" y="310.7" width="7.6" height="7.6" fill="#228b22" stroke="#123d12" stroke-width="0.5"/>
<rect x="368.1" y="334.2" width="7.6" height="7.6" fill="#228b22" stroke="#123d12" stroke-width="0.5"/>
<rect x="436.6" y="233.1" width="7.6" height="7.6" fill="#228b22" stroke="#123d12" stroke-width="0.5"/>
<rect x="414.4" y="284.0" width="7.6" height="7.6" fill="#228b22" stroke="#123d12" stroke-width="0.5"/>
<rect x="443.8" y="291.0" width="7.6" height="7.6" fill="#228b22" stroke="#123d12" stroke-width="0.5"/>
<rect x="443.1" y="299.9" width="7.6" height="7.6" fill="#228b22" stroke="#123d12" stroke-width="0.5"/>
<rect x="407.1" y="292.3" width="7.6" height="7.6" fill="#228b22" stroke="#123d12" stroke-width="0.5"/>
<rect x="414.1" y="294.2" width="7.6" height="7.6" fill="#228b22" stroke="#123d12" stroke-width="0.5"/>
<rect x="419.8" y="292.9" width="7.6" height="7.6" fill="#228b22" stroke="#123d12" stroke-width="0.5"/>
<rect x="402.7" y="294.8" width="7.6" height="7.6" fill="#228b22" stroke="#123d12" stroke-width="0.5"/>
<rect x="402.0" y="300.6" width="7.6" height="7.6" fill="#228b22" stroke="#123d12" stroke-width="0.5"/>
<rect x="411.6" y="300.6" width="7.6" height="7.6" fill="#228b22" stroke="#123d12" stroke-width="0.5"/>
<rect x="419.8" y="303.7" width="7.6" height="7.6" fill="#228b22" stroke="#123d12" stroke-width="0.5"/>
<rect x="423.0" y="299.3" width="7.6" height="7.6" fill="#228b22" stroke="#123d12" stroke-width="0.5"/>
<rect x="429.4" y="310.1" width="7.6" height="7.6" fill="#228b22" stroke="#123d12" stroke-width="0.5"/>
<rect x="422.4" y="310.1" width="7.6" height="7.6" fill="#228b22" stroke="#123d12" stroke-width="0.5"/>
<rect x="436.4" y="310.1" width="7.6" height="7.6" fill="#228b22" stroke="#123d12" stroke-width="0.5"/>
<rect x="392.5" y="309.5" width="7.6" height="7.6" fill="#228b22" stroke="#123d12" stroke-width="0.5"/>
<rect x="450.4" y="317.1" width="7.6" height="7.6" fill="#228b22" stroke="#123d12" stroke-width="0.5"/>
<rect x="453.6" y="319.7" width="7.6" height="7.6" fill="#228b22" stroke="#123d12" stroke-width="0.5"/>
<rect x="435.7" y="315.2" width="7.6" height="7.6" fill="#228b22" stroke="#123d12" stroke-width="0.5"/>
<rect x="431.9" y="316.4" width="7.6" height="7.6" fill="#228b22" stroke="#123d12" stroke-width="0.5"/>
<rect x="444.7" y="321.5" width="7.6" height="7.6" fill="#228b22" stroke="#123d12" stroke-width="0.5"/>
<rect x="445.9" y="336.1" width="7.6" height="7.6" fill="#228b22" stroke="#123d12" stroke-width="0.5"/>
<rect x="414.1" y="322.1" width="7.6" height="7.6" fill="#228b22" stroke="#123d12" stroke-width="0.5"/>
<rect x="496.6" y="294.2" width="7.6" height="7.6" fill="#228b22" stroke="#123d12" stroke-width="0.5"/>
<rect x="499.3" y="317.0" width="7.6" height="7.6" fill="#228b22" stroke="#123d12" stroke-width="0.5"/>
<rect x="465.2" y="303.0" width="7.6" height="7.6" fill="#228b22" stroke="#123d12" stroke-width="0.5"/>
<rect x="475.0" y="304.9" width="7.6" height="7.6" fill="#228b22" stroke="#123d12" stroke-width="0.5"/>
<rect x="460.7" y="307.5" width="7.6" height="7.6" fill="#228b22" stroke="#123d12" stroke-width="0.5"/>
<rect x="459.5" y="304.3" width="7.6" height="7.6" fill="#228b22" stroke="#123d12" stroke-width="0.5"/>
<rect x="477.3" y="311.9" width="7.6" height="7.6" fill="#228b22" stroke="#123d12" stroke-width="0.5"/>
<rect x="470.3" y="314.5" width="7.6" height="7.6" fill="#228b22" stroke="#123d12" stroke-width="0.5"/>
<rect x="469.7" y="318.9" width="7.6" height="7.6" fill="#228b22" stroke="#123d12" stroke-width="0.5"/>
<rect x="481.1" y="318.9" width="7.6" height="7.6" fill="#228b22" stroke="#123d12" stroke-width="0.5"/>
<rect x="477.9" y="336.1" width="7.6" height="7.6" fill="#228b22" stroke="#123d12" stroke-width="0.5"/>
<rect x="470.9" y="328.5" width="7.6" height="7.6" fill="#228b22" stroke="#123d12" stroke-width="0.5"/>
<rect x="473.5" y="343.1" width="7.6" height="7.6" fill="#228b22" stroke="#123d12" stroke-width="0.5"/>
<rect x="492.6" y="336.1" width="7.6" height="7.6" fill="#228b22" stroke="#123d12" stroke-width="0.5"/>
<rect x="452.5" y="317.7" width="7.6" height="7.6" fill="#228b22" stroke="#123d12" stroke-width="0.5"/>
<rect x="454.4" y="322.1" width="7.6" height="7.6" fill="#228b22" stroke="#123d12" stroke-width="0.5"/>
<rect x="456.3" y="326.6" width="7.6" height="7.6" fill="#228b22" stroke="#123d12" stroke-width="0.5"/>
<rect x="488.1" y="353.4" width="7.6" height="7.6" fill="#228b22" stroke="#123d12" stroke-width="0.5"/>
<circle cx="454.8" cy="342.0" r="4.2" fill="#ff0000" stroke="#330000" stroke-width="0.5"/>
<circle cx="426.0" cy="335.4" r="4.2" fill="#ff0000" stroke="#330000" stroke-width="0.5"/>
<circle cx="408.2" cy="322.1" r="4.2" fill="#ff0000" stroke="#330000" stroke-width="0.5"/>
<circle cx="393.2" cy="335.5" r="4.2" fill="#ff0000" stroke="#330000" stroke-width="0.5"/>
<circle cx="389.7" cy="334.9" r="4.2" fill="#ff0000" stroke="#330000" stroke-width="0.5"/>
<circle cx="387.7" cy="345.0" r="4.2" fill="#ff0000" stroke="#330000" stroke-width="0.5"/>
<circle cx="423.6" cy="326.4" r="4.2" fill="#ff0000" stroke="#330000" stroke-width="0.5"/>
<circle cx="432.0" cy="332.2" r="4.2" fill="#ff0000" stroke="#330000" stroke-width="0.5"/>
<circle cx="459.4" cy="338.3" r="4.2" fill="#ff0000" stroke="#330000" stroke-width="0.5"/>
<circle cx="407.3" cy="329.6" r="4.2" fill="#ff0000" stroke="#330000" stroke-width="0.5"/>
<circle cx="389.5" cy="329.0" r="4.2" fill="#ff0000" stroke="#330000" stroke-width="0.5"/>
<circle cx="405.5" cy="338.1" r="4.2" fill="#ff0000" stroke="#330000" stroke-width="0.5"/>
<circle cx="417.5" cy="344.9" r="4.2" fill="#ff0000" stroke="#330000" stroke-width="0.5"/>
<circle cx="381.8" cy="322.5" r="4.2" fill="#ff0000" stroke="#330000" stroke-width="0.5"/>
<circle cx="450.5" cy="335.8" r="4.2" fill="#ff0000" stroke="#330000" stroke-width="0.5"/>
<circle cx="441.7" cy="337.8" r="4.2" fill="#ff0000" stroke="#330000" stroke-width="0.5"/>
<circle cx="420.7" cy="344.1" r="4.2" fill="#ff0000" stroke="#330000" stroke-width="0.5"/>
<circle cx="437.1" cy="335.6" r="4.2" fill="#ff0000" stroke="#330000" stroke-width="0.5"/>
<circle cx="409.6" cy="326.3" r="4.2" fill="#ff0000" stroke="#330000" stroke-width="0.5"/>
<circle cx="439.8" cy="340.5" r="4.2" fill="#ff0000" stroke="#330000" stroke-width="0.5"/>
<circle cx="467.3" cy="338.8" r="4.2" fill="#ff0000" stroke="#330000" stroke-width="0.5"/>
<circle cx="392.1" cy="325.4" r="4.2" fill="#ff0000" stroke="#330000" stroke-width="0.5"/>
<circle cx="382.8" cy="334.6" r="4.2" fill="#ff0000" stroke="#330000" stroke-width="0.5"/>
<circle cx="442.1" cy="331.4" r="4.2" fill="#ff0000" stroke="#330000" stroke-width="0.5"/>
<circle cx="447.6" cy="335.1" r="4.2" fill="#ff0000" stroke="#330000" stroke-width="0.5"/>
<circle cx="388.7" cy="325.0" r="4.2" fill="#ff0000" stroke="#330000" stroke-width="0.5"/>
<circle cx="401.3" cy="328.6" r="4.2" fill="#ff0000" stroke="#330000" stroke-width="0.5"/>
<circle cx="401.8" cy="332.7" r="4.2" fill="#ff0000" stroke="#330000" stroke-width="0.5"/>
<circle cx="388.5" cy="318.8" r="4.2" fill="#ff0000" stroke="#330000" stroke-width="0.5"/>
<circle cx="456.4" cy="344.5" r="4.2" fill="#ff0000" stroke="#330000" stroke-width="0.5"/>
<circle cx="377.8" cy="313.6" r="4.2" fill="#ff0000" stroke="#330000" stroke-width="0.5"/>
<circle cx="380.5" cy="332.5" r="4.2" fill="#ff0000" stroke="#330000" stroke-width="0.5"/>
<circle cx="388.1" cy="332.7" r="4.2" fill="#ff0000" stroke="#330000" stroke-width="0.5"/>
<circle cx="446.0" cy="337.9" r="4.2" fill="#ff0000" stroke="#330000" stroke-width="0.5"/>
<circle cx="449.1" cy="338.0" r="4.2" fill="#ff0000" stroke="#330000" stroke-width="0.5"/>
<circle cx="417.3" cy="331.2" r="4.2" fill="#ff0000" stroke="#330000" stroke-width="0.5"/>
<circle cx="385.1" cy="343.7" r="4.2" fill="#ff0000" stroke="#330000" stroke-width="0.5"/>
<circle cx="454.8" cy="347.7" r="4.2" fill="#ff0000" stroke="#330000" stroke-width="0.5"/>
<circle cx="414.3" cy="342.0" r="4.2" fill="#ff0000" stroke="#330000" stroke-width="0.5"/>
<circle cx="377.2" cy="319.1" r="4.2" fill="#ff0000" stroke="#330000" stroke-width="0.5"/>
<circle cx="390.3" cy="316.1" r="4.2" fill="#ff0000" stroke="#330000" stroke-width="0.5"/>
<circle cx="384.4" cy="312.8" r="4.2" fill="#ff0000" stroke="#330000" stroke-width="0.5"/>
<circle cx="429.9" cy="328.6" r="4.2" fill="#ff0000" stroke="#330000" stroke-width="0.5"/>
<circle cx="373.7" cy="325.5" r="4.2" fill="#ff0000" stroke="#330000" stroke-width="0.5"/>
<circle cx="397.4" cy="322.8" r="4.2" fill="#ff0000" stroke="#330000" stroke-width="0.5"/>
<circle cx="418.9" cy="340.6" r="4.2" fill="#ff0000" stroke="#330000" stroke-width="0.5"/>
<circle cx="436.9" cy="341.7" r="4.2" fill="#ff0000" stroke="#330000" stroke-width="0.5"/>
<circle cx="455.4" cy="335.7" r="4.2" fill="#ff0000" stroke="#330000" stroke-width="0.5"/>
<circle cx="429.4" cy="341.3" r="4.2" fill="#ff0000" stroke="#330000" stroke-width="0.5"/>
<circle cx="393.7" cy="328.6" r="4.2" fill="#ff0000" stroke="#330000" stroke-width="0.5"/>
<circle cx="453.0" cy="343.7" r="4.2" fill="#ff0000" stroke="#330000" stroke-width="0.5"/>
<circle cx="406.2" cy="325.5" r="4.2" fill="#ff0000" stroke="#330000" stroke-width="0.5"/>
<circle cx="385.8" cy="340.8" r="4.2" fill="#ff0000" stroke="#330000" stroke-width="0.5"/>
<circle cx="384.6" cy="332.1" r="4.2" fill="#ff0000" stroke="#330000" stroke-width="0.5"/>
<circle cx="377.2" cy="332.1" r="4.2" fill="#ff0000" stroke="#330000" stroke-width="0.5"/>
<circle cx="434.0" cy="338.8" r="4.2" fill="#ff0000" stroke="#330000" stroke-width="0.5"/>
<circle cx="388.3" cy="312.9" r="4.2" fill="#ff0000" stroke="#330000" stroke-width="0.5"/>
<circle cx="391.4" cy="320.3" r="4.2" fill="#ff0000" stroke="#330000" stroke-width="0.5"/>
<circle cx="392.6" cy="323.3" r="4.2" fill="#ff0000" stroke="#330000" stroke-width="0.5"/>
<circle cx="382.5" cy="316.4" r="4.2" fill="#ff0000" stroke="#330000" stroke-width="0.5"/>
<circle cx="392.1" cy="338.1" r="4.2" fill="#ff0000" stroke="#330000" stroke-width="0.5"/>
<circle cx="418.1" cy="334.6" r="4.2" fill="#ff0000" stroke="#330000" stroke-width="0.5"/>
<circle cx="379.4" cy="329.2" r="4.2" fill="#ff0000" stroke="#330000" stroke-width="0.5"/>
<circle cx="432.7" cy="329.0" r="4.2" fill="#ff0000" stroke="#330000" stroke-width="0.5"/>
<circle cx="453.3" cy="337.4" r="4.2" fill="#ff0000" stroke="#330000" stroke-width="0.5"/>
<circle cx="444.8" cy="344.3" r="4.2" fill="#ff0000" stroke="#330000" stroke-width="0.5"/>
<circle cx="395.1" cy="331.8" r="4.2" fill="#ff0000" stroke="#330000" stroke-width="0.5"/>
<circle cx="449.2" cy="344.1" r="4.2" fill="#ff0000" stroke="#330000" stroke-width="0.5"/>
<circle cx="420.3" cy="325.3" r="4.2" fill="#ff0000" stroke="#330000" stroke-width="0.5"/>
<circle cx="456.5" cy="337.6" r="4.2" fill="#ff0000" stroke="#330000" stroke-width="0.5"/>
<circle cx="373.3" cy="319.0" r="4.2" fill="#ff0000" stroke="#330000" stroke-width="0.5"/>
<circle cx="411.8" cy="322.7" r="4.2" fill="#ff0000" stroke="#330000" stroke-width="0.5"/>
<circle cx="401.2" cy="323.2" r="4.2" fill="#ff0000" stroke="#330000" stroke-width="0.5"/>
<circle cx="398.8" cy="331.2" r="4.2" fill="#ff0000" stroke="#330000" stroke-width="0.5"/>
<circle cx="469.6" cy="335.2" r="4.2" fill="#ff0000" stroke="#330000" stroke-width="0.5"/>
<circle cx="440.4" cy="334.3" r="4.2" fill="#ff0000" stroke="#330000" stroke-width="0.5"/>
<circle cx="441.6" cy="343.9" r="4.2" fill="#ff0000" stroke="#330000" stroke-width="0.5"/>
<circle cx="424.6" cy="343.7" r="4.2" fill="#ff0000" stroke="#330000" stroke-width="0.5"/>
<circle cx="377.1" cy="326.3" r="4.2" fill="#ff0000" stroke="#330000" stroke-width="0.5"/>
<circle cx="414.8" cy="328.6" r="4.2" fill="#ff0000" stroke="#330000" stroke-width="0.5"/>
<circle cx="422.5" cy="341.1" r="4.2" fill="#ff0000" stroke="#330000" stroke-width="0.5"/>
<circle cx="396.8" cy="328.3" r="4.2" fill="#ff0000" stroke="#330000" stroke-width="0.5"/>
<circle cx="420.6" cy="338.4" r="4.2" fill="#ff0000" stroke="#330000" stroke-width="0.5"/>
<circle cx="461.1" cy="341.6" r="4.2" fill="#ff0000" stroke="#330000" stroke-width="0.5"/>
<circle cx="375.2" cy="322.9" r="4.2" fill="#ff0000" stroke="#330000" stroke-width="0.5"/>
<circle cx="405.4" cy="332.6" r="4.2" fill="#ff0000" stroke="#330000" stroke-width="0.5"/>
<circle cx="465.7" cy="334.7" r="4.2" fill="#ff0000" stroke="#330000" stroke-width="0.5"/>
<circle cx="383.2" cy="329.5" r="4.2" fill="#ff0000" stroke="#330000" stroke-width="0.5"/>
<circle cx="419.8" cy="331.7" r="4.2" fill="#ff0000" stroke="#330000" stroke-width="0.5"/>
<circle cx="433.5" cy="341.4" r="4.2" fill="#ff0000" stroke="#330000" stroke-width="0.5"/>
<circle cx="392.4" cy="332.5" r="4.2" fill="#ff0000" stroke="#330000" stroke-width="0.5"/>
<circle cx="419.3" cy="329.4" r="4.2" fill="#ff0000" stroke="#330000" stroke-width="0.5"/>
<circle cx="385.1" cy="337.7" r="4.2" fill="#ff0000" stroke="#330000" stroke-width="0.5"/>
<circle cx="457.6" cy="341.4" r="4.2" fill="#ff0000" stroke="#330000" stroke-width="0.5"/>
<circle cx="404.6" cy="335.8" r="4.2" fill="#ff0000" stroke="#330000" stroke-width="0.5"/>
<circle cx="400.6" cy="334.7" r="4.2" fill="#ff0000" stroke="#330000" stroke-width="0.5"/>
<circle cx="410.8" cy="328.1" r="4.2" fill="#ff0000" stroke="#330000" stroke-width="0.5"/>
<circle cx="438.6" cy="343.7" r="4.2" fill="#ff0000" stroke="#330000" stroke-width="0.5"/>
<circle cx="422.6" cy="328.7" r="4.2" fill="#ff0000" stroke="#330000" stroke-width="0.5"/>
<circle cx="407.4" cy="335.4" r="4.2" fill="#ff0000" stroke="#330000" stroke-width="0.5"/>
<circle cx="403.6" cy="323.1" r="4.2" fill="#ff0000" stroke="#330000" stroke-width="0.5"/>
<circle cx="417.4" cy="337.7" r="4.2" fill="#ff0000" stroke="#330000" stroke-width="0.5"/>
<circle cx="375.7" cy="329.5" r="4.2" fill="#ff0000" stroke="#330000" stroke-width="0.5"/>
<circle cx="388.4" cy="338.5" r="4.2" fill="#ff0000" stroke="#330000" stroke-width="0.5"/>
<circle cx="412.7" cy="338.3" r="4.2" fill="#ff0000" stroke="#330000" stroke-width="0.5"/>
<circle cx="435.5" cy="343.8" r="4.2" fill="#ff0000" stroke="#330000" stroke-width="0.5"/>
<circle cx="437.9" cy="337.9" r="4.2" fill="#ff0000" stroke="#330000" stroke-width="0.5"/>
<circle cx="432.3" cy="335.5" r="4.2" fill="#ff0000" stroke="#330000" stroke-width="0.5"/>
<circle cx="427.9" cy="331.3" r="4.2" fill="#ff0000" stroke="#330000" stroke-width="0.5"/>
<circle cx="389.1" cy="341.6" r="4.2" fill="#ff0000" stroke="#330000" stroke-width="0.5"/>
<circle cx="471.0" cy="338.2" r="4.2" fill="#ff0000" stroke="#330000" stroke-width="0.5"/>
<circle cx="411.5" cy="341.8" r="4.2" fill="#ff0000" stroke="#330000" stroke-width="0.5"/>
<circle cx="409.9" cy="332.6" r="4.2" fill="#ff0000" stroke="#330000" stroke-width="0.5"/>
<circle cx="424.6" cy="338.5" r="4.2" fill="#ff0000" stroke="#330000" stroke-width="0.5"/>
<circle cx="411.7" cy="335.3" r="4.2" fill="#ff0000" stroke="#330000" stroke-width="0.5"/>
<circle cx="423.5" cy="331.4" r="4.2" fill="#ff0000" stroke="#330000" stroke-width="0.5"/>
<circle cx="461.3" cy="335.6" r="4.2" fill="#ff0000" stroke="#330000" stroke-width="0.5"/>
<circle cx="427.2" cy="344.9" r="4.2" fill="#ff0000" stroke="#330000" stroke-width="0.5"/>
<circle cx="390.0" cy="323.1" r="4.2" fill="#ff0000" stroke="#330000" stroke-width="0.5"/>
<circle cx="425.8" cy="340.7" r="4.2" fill="#ff0000" stroke="#330000" stroke-width="0.5"/>
<circle cx="412.5" cy="344.6" r="4.2" fill="#ff0000" stroke="#330000" stroke-width="0.5"/>
<circle cx="427.3" cy="337.7" r="4.2" fill="#ff0000" stroke="#330000" stroke-width="0.5"/>
<circle cx="386.6" cy="329.6" r="4.2" fill="#ff0000" stroke="#330000" stroke-width="0.5"/>
<circle cx="446.8" cy="341.0" r="4.2" fill="#ff0000" stroke="#330000" stroke-width="0.5"/>
<circle cx="431.7" cy="337.9" r="4.2" fill="#ff0000" stroke="#330000" stroke-width="0.5"/>
<circle cx="380.7" cy="319.8" r="4.2" fill="#ff0000" stroke="#330000" stroke-width="0.5"/>
<circle cx="395.1" cy="337.9" r="4.2" fill="#ff0000" stroke="#330000" stroke-width="0.5"/>
<circle cx="381.4" cy="313.6" r="4.2" fill="#ff0000" stroke="#330000" stroke-width="0.5"/>
<circle cx="380.5" cy="325.9" r="4.2" fill="#ff0000" stroke="#330000" stroke-width="0.5"/>
<circle cx="465.3" cy="340.7" r="4.2" fill="#ff0000" stroke="#330000" stroke-width="0.5"/>
<circle cx="379.8" cy="322.8" r="4.2" fill="#ff0000" stroke="#330000" stroke-width="0.5"/>
<circle cx="438.0" cy="331.9" r="4.2" fill="#ff0000" stroke="#330000" stroke-width="0.5"/>
<circle cx="434.1" cy="332.6" r="4.2" fill="#ff0000" stroke="#330000" stroke-width="0.5"/>
<circle cx="463.4" cy="337.5" r="4.2" fill="#ff0000" stroke="#330000" stroke-width="0.5"/>
<circle cx="429.7" cy="335.0" r="4.2" fill="#ff0000" stroke="#330000" stroke-width="0.5"/>
<circle cx="401.9" cy="338.1" r="4.2" fill="#ff0000" stroke="#330000" stroke-width="0.5"/>
<circle cx="474.9" cy="338.8" r="4.2" fill="#ff0000" stroke="#330000" stroke-width="0.5"/>
<circle cx="402.9" cy="325.1" r="4.2" fill="#ff0000" stroke="#330000" stroke-width="0.5"/>
<circle cx="385.1" cy="319.6" r="4.2" fill="#ff0000" stroke="#330000" stroke-width="0.5"/>
<circle cx="443.8" cy="340.7" r="4.2" fill="#ff0000" stroke="#330000" stroke-width="0.5"/>
<circle cx="431.8" cy="344.3" r="4.2" fill="#ff0000" stroke="#330000" stroke-width="0.5"/>
<circle cx="413.7" cy="325.9" r="4.2" fill="#ff0000" stroke="#330000" stroke-width="0.5"/>
<circle cx="414.2" cy="335.1" r="4.2" fill="#ff0000" stroke="#330000" stroke-width="0.5"/>
<circle cx="375.3" cy="316.4" r="4.2" fill="#ff0000" stroke="#330000" stroke-width="0.5"/>
<circle cx="379.1" cy="315.6" r="4.2" fill="#ff0000" stroke="#330000" stroke-width="0.5"/>
<circle cx="451.1" cy="341.5" r="4.2" fill="#ff0000" stroke="#330000" stroke-width="0.5"/>
<circle cx="386.0" cy="334.7" r="4.2" fill="#ff0000" stroke="#330000" stroke-width="0.5"/>
<circle cx="404.2" cy="329.5" r="4.2" fill="#ff0000" stroke="#330000" stroke-width="0.5"/>
<circle cx="409.7" cy="337.9" r="4.2" fill="#ff0000" stroke="#330000" stroke-width="0.5"/>
<circle cx="395.4" cy="326.2" r="4.2" fill="#ff0000" stroke="#330000" stroke-width="0.5"/>
<circle cx="422.3" cy="335.3" r="4.2" fill="#ff0000" stroke="#330000" stroke-width="0.5"/>
<circle cx="399.0" cy="325.5" r="4.2" fill="#ff0000" stroke="#330000" stroke-width="0.5"/>
<circle cx="407.3" cy="340.9" r="4.2" fill="#ff0000" stroke="#330000" stroke-width="0.5"/>
<circle cx="386.5" cy="323.2" r="4.2" fill="#ff0000" stroke="#330000" stroke-width="0.5"/>
<circle cx="443.3" cy="334.4" r="4.2" fill="#ff0000" stroke="#330000" stroke-width="0.5"/>
<circle cx="414.5" cy="323.1" r="4.2" fill="#ff0000" stroke="#330000" stroke-width="0.5"/>
<circle cx="412.5" cy="331.6" r="4.2" fill="#ff0000" stroke="#330000" stroke-width="0.5"/>
<circle cx="384.4" cy="325.8" r="4.2" fill="#ff0000" stroke="#330000" stroke-width="0.5"/>
<circle cx="397.5" cy="335.2" r="4.2" fill="#ff0000" stroke="#330000" stroke-width="0.5"/>
<circle cx="385.7" cy="315.7" r="4.2" fill="#ff0000" stroke="#330000" stroke-width="0.5"/>
<circle cx="425.9" cy="328.4" r="4.2" fill="#ff0000" stroke="#330000" stroke-width="0.5"/>
<circle cx="416.5" cy="325.3" r="4.2" fill="#ff0000" stroke="#330000" stroke-width="0.5"/>
<circle cx="92.9" cy="368.1" r="4.2" fill="#ff0000" stroke="#330000" stroke-width="0.5"/>
<circle cx="116.2" cy="365.6" r="4.2" fill="#ff0000" stroke="#330000" stroke-width="0.5"/>
<circle cx="117.2" cy="366.1" r="4.2" fill="#ff0000" stroke="#330000" stroke-width="0.5"/>
<circle cx="119.7" cy="343.8" r="4.2" fill="#ff0000" stroke="#330000" stroke-width="0.5"/>
<circle cx="119.7" cy="351.2" r="4.2" fill="#ff0000" stroke="#330000" stroke-width="0.5"/>
<circle cx="127.3" cy="355.0" r="4.2" fill="#ff0000" stroke="#330000" stroke-width="0.5"/>
<circle cx="131.2" cy="355.0" r="4.2" fill="#ff0000" stroke="#330000" stroke-width="0.5"/>
<circle cx="129.3" cy="329.5" r="4.2" fill="#ff0000" stroke="#330000" stroke-width="0.5"/>
<circle cx="153.9" cy="338.9" r="4.2" fill="#ff0000" stroke="#330000" stroke-width="0.5"/>
<circle cx="155.8" cy="341.5" r="4.2" fill="#ff0000" stroke="#330000" stroke-width="0.5"/>
<circle cx="161.5" cy="337.6" r="4.2" fill="#ff0000" stroke="#330000" stroke-width="0.5"/>
<circle cx="176.4" cy="339.2" r="4.2" fill="#ff0000" stroke="#330000" stroke-width="0.5"/>
<circle cx="182.3" cy="329.4" r="4.2" fill="#ff0000" stroke="#330000" stroke-width="0.5"/>
<circle cx="188.5" cy="333.4" r="4.2" fill="#ff0000" stroke="#330000" stroke-width="0.5"/>
<circle cx="184.5" cy="339.2" r="4.2" fill="#ff0000" stroke="#330000" stroke-width="0.5"/>
<circle cx="182.5" cy="341.8" r="4.2" fill="#ff0000" stroke="#330000" stroke-width="0.5"/>
<circle cx="197.8" cy="334.5" r="4.2" fill="#ff0000" stroke="#330000" stroke-width="0.5"/>
<circle cx="201.6" cy="331.9" r="4.2" fill="#ff0000" stroke="#330000" stroke-width="0.5"/>
<circle cx="201.0" cy="335.7" r="4.2" fill="#ff0000" stroke="#330000" stroke-width="0.5"/>
<circle cx="204.2" cy="324.0" r="4.2" fill="#ff0000" stroke="#330000" stroke-width="0.5"/>
<circle cx="206.7" cy="318.5" r="4.2" fill="#ff0000" stroke="#330000" stroke-width="0.5"/>
<circle cx="209.9" cy="323.6" r="4.2" fill="#ff0000" stroke="#330000" stroke-width="0.5"/>
<circle cx="211.8" cy="328.1" r="4.2" fill="#ff0000" stroke="#330000" stroke-width="0.5"/>
<circle cx="212.5" cy="334.5" r="4.2" fill="#ff0000" stroke="#330000" stroke-width="0.5"/>
<circle cx="211.8" cy="345.9" r="4.2" fill="#ff0000" stroke="#330000" stroke-width="0.5"/>
<circle cx="213.1" cy="339.5" r="4.2" fill="#ff0000" stroke="#330000" stroke-width="0.5"/>
<circle cx="214.2" cy="302.7" r="4.2" fill="#ff0000" stroke="#330000" stroke-width="0.5"/>
<circle cx="238.3" cy="298.9" r="4.2" fill="#ff0000" stroke="#330000" stroke-width="0.5"/>
<circle cx="246.4" cy="302.3" r="4.2" fill="#ff0000" stroke="#330000" stroke-width="0.5"/>
<circle cx="237.1" cy="307.2" r="4.2" fill="#ff0000" stroke="#330000" stroke-width="0.5"/>
<circle cx="241.9" cy="312.3" r="4.2" fill="#ff0000" stroke="#330000" stroke-width="0.5"/>
<circle cx="254.6" cy="319.3" r="4.2" fill="#ff0000" stroke="#330000" stroke-width="0.5"/>
<circle cx="262.9" cy="295.1" r="4.2" fill="#ff0000" stroke="#330000" stroke-width="0.5"/>
<circle cx="274.4" cy="300.8" r="4.2" fill="#ff0000" stroke="#330000" stroke-width="0.5"/>
<circle cx="274.4" cy="292.5" r="4.2" fill="#ff0000" stroke="#330000" stroke-width="0.5"/>
<circle cx="221.3" cy="319.3" r="4.2" fill="#ff0000" stroke="#330000" stroke-width="0.5"/>
<circle cx="230.1" cy="321.2" r="4.2" fill="#ff0000" stroke="#330000" stroke-width="0.5"/>
<circle cx="227.9" cy="326.9" r="4.2" fill="#ff0000" stroke="#330000" stroke-width="0.5"/>
<circle cx="235.2" cy="331.4" r="4.2" fill="#ff0000" stroke="#330000" stroke-width="0.5"/>
<circle cx="220.9" cy="332.6" r="4.2" fill="#ff0000" stroke="#330000" stroke-width="0.5"/>
<circle cx="220.9" cy="335.2" r="4.2" fill="#ff0000" stroke="#330000" stroke-width="0.5"/>
<circle cx="254.8" cy="239.5" r="4.2" fill="#ff0000" stroke="#330000" stroke-width="0.5"/>
<circle cx="253.6" cy="260.5" r="4.2" fill="#ff0000" stroke="#330000" stroke-width="0.5"/>
<circle cx="271.9" cy="266.8" r="4.2" fill="#ff0000" stroke="#330000" stroke-width="0.5"/>
<circle cx="260.4" cy="280.2" r="4.2" fill="#ff0000" stroke="#330000" stroke-width="0.5"/>
<circle cx="250.0" cy="283.8" r="4.2" fill="#ff0000" stroke="#330000" stroke-width="0.5"/>
<circle cx="243.3" cy="286.8" r="4.2" fill="#ff0000" stroke="#330000" stroke-width="0.5"/>
<circle cx="250.9" cy="288.1" r="4.2" fill="#ff0000" stroke="#330000" stroke-width="0.5"/>
<circle cx="259.2" cy="287.8" r="4.2" fill="#ff0000" stroke="#330000" stroke-width="0.5"/>
<circle cx="277.7" cy="286.2" r="4.2" fill="#ff0000" stroke="#330000" stroke-width="0.5"/>
<circle cx="284.4" cy="284.0" r="4.2" fill="#ff0000" stroke="#330000" stroke-width="0.5"/>
<circle cx="292.2" cy="262.4" r="4.2" fill="#ff0000" stroke="#330000" stroke-width="0.5"/>
<circle cx="312.5" cy="270.0" r="4.2" fill="#ff0000" stroke="#330000" stroke-width="0.5"/>
<circle cx="315.1" cy="270.6" r="4.2" fill="#ff0000" stroke="#330000" stroke-width="0.5"/>
<circle cx="332.7" cy="264.3" r="4.2" fill="#ff0000" stroke="#330000" stroke-width="0.5"/>
<circle cx="334.6" cy="271.3" r="4.2" fill="#ff0000" stroke="#330000" stroke-width="0.5"/>
<circle cx="300.1" cy="277.6" r="4.2" fill="#ff0000" stroke="#330000" stroke-width="0.5"/>
<circle cx="295.4" cy="281.4" r="4.2" fill="#ff0000" stroke="#330000" stroke-width="0.5"/>
<circle cx="314.5" cy="281.0" r="4.2" fill="#ff0000" stroke="#330000" stroke-width="0.5"/>
<circle cx="336.7" cy="280.5" r="4.2" fill="#ff0000" stroke="#330000" stroke-width="0.5"/>
<circle cx="332.3" cy="284.3" r="4.2" fill="#ff0000" stroke="#330000" stroke-width="0.5"/>
<circle cx="276.3" cy="291.6" r="4.2" fill="#ff0000" stroke="#330000" stroke-width="0.5"/>
<circle cx="291.5" cy="290.4" r="4.2" fill="#ff0000" stroke="#330000" stroke-width="0.5"/>
<circle cx="287.7" cy="292.3" r="4.2" fill="#ff0000" stroke="#330000" stroke-width="0.5"/>
<circle cx="289.9" cy="296.1" r="4.2" fill="#ff0000" stroke="#330000" stroke-width="0.5"/>
<circle cx="310.0" cy="299.3" r="4.2" fill="#ff0000" stroke="#330000" stroke-width="0.5"/>
<circle cx="313.8" cy="297.4" r="4.2" fill="#ff0000" stroke="#330000" stroke-width="0.5"/>
<circle cx="315.1" cy="300.5" r="4.2" fill="#ff0000" stroke="#330000" stroke-width="0.5"/>
<circle cx="322.1" cy="301.8" r="4.2" fill="#ff0000" stroke="#330000" stroke-width="0.5"/>
<circle cx="309.4" cy="305.0" r="4.2" fill="#ff0000" stroke="#330000" stroke-width="0.5"/>
<circle cx="307.8" cy="306.9" r="4.2" fill="#ff0000" stroke="#330000" stroke-width="0.5"/>
<circle cx="327.8" cy="291.6" r="4.2" fill="#ff0000" stroke="#330000" stroke-width="0.5"/>
<circle cx="334.8" cy="291.0" r="4.2" fill="#ff0000" stroke="#330000" stroke-width="0.5"/>
<circle cx="331.0" cy="294.8" r="4.2" fill="#ff0000" stroke="#330000" stroke-width="0.5"/>
<circle cx="334.8" cy="300.5" r="4.2" fill="#ff0000" stroke="#330000" stroke-width="0.5"/>
<circle cx="330.4" cy="305.0" r="4.2" fill="#ff0000" stroke="#330000" stroke-width="0.5"/>
<circle cx="334.8" cy="310.7" r="4.2" fill="#ff0000" stroke="#330000" stroke-width="0.5"/>
<circle cx="334.8" cy="318.4" r="4.2" fill="#ff0000" stroke="#330000" stroke-width="0.5"/>
<circle cx="341.8" cy="304.4" r="4.2" fill="#ff0000" stroke="#330000" stroke-width="0.5"/>
<circle cx="342.5" cy="293.5" r="4.2" fill="#ff0000" stroke="#330000" stroke-width="0.5"/>
<circle cx="344.4" cy="287.8" r="4.2" fill="#ff0000" stroke="#330000" stroke-width="0.5"/>
<circle cx="320.2" cy="326.6" r="4.2" fill="#ff0000" stroke="#330000" stroke-width="0.5"/>
<circle cx="379.8" cy="275.3" r="4.2" fill="#ff0000" stroke="#330000" stroke-width="0.5"/>
<circle cx="348.4" cy="303.1" r="4.2" fill="#ff0000" stroke="#330000" stroke-width="0.5"/>
<circle cx="354.1" cy="312.6" r="4.2" fill="#ff0000" stroke="#330000" stroke-width="0.5"/>
<circle cx="360.1" cy="315.2" r="4.2" fill="#ff0000" stroke="#330000" stroke-width="0.5"/>
<circle cx="367.2" cy="309.5" r="4.2" fill="#ff0000" stroke="#330000" stroke-width="0.5"/>
<circle cx="376.4" cy="315.2" r="4.2" fill="#ff0000" stroke="#330000" stroke-width="0.5"/>
<circle cx="369.4" cy="322.2" r="4.2" fill="#ff0000" stroke="#330000" stroke-width="0.5"/>
<circle cx="388.5" cy="298.6" r="4.2" fill="#ff0000" stroke="#330000" stroke-width="0.5"/>
<circle cx="391.0" cy="303.3" r="4.2" fill="#ff0000" stroke="#330000" stroke-width="0.5"/>
<circle cx="384.0" cy="307.5" r="4.2" fill="#ff0000" stroke="#330000" stroke-width="0.5"/>
<circle cx="385.3" cy="312.6" r="4.2" fill="#ff0000" stroke="#330000" stroke-width="0.5"/>
<circle cx="391.0" cy="311.4" r="4.2" fill="#ff0000" stroke="#330000" stroke-width="0.5"/>
<circle cx="401.2" cy="308.8" r="4.2" fill="#ff0000" stroke="#330000" stroke-width="0.5"/>
<circle cx="385.9" cy="319.0" r="4.2" fill="#ff0000" stroke="#330000" stroke-width="0.5"/>
<circle cx="378.3" cy="324.7" r="4.2" fill="#ff0000" stroke="#330000" stroke-width="0.5"/>
<circle cx="394.2" cy="320.9" r="4.2" fill="#ff0000" stroke="#330000" stroke-width="0.5"/>
<circle cx="401.2" cy="320.9" r="4.2" fill="#ff0000" stroke="#330000" stroke-width="0.5"/>
<circle cx="383.4" cy="323.5" r="4.2" fill="#ff0000" stroke="#330000" stroke-width="0.5"/>
<circle cx="373.8" cy="329.7" r="4.2" fill="#ff0000" stroke="#330000" stroke-width="0.5"/>
<circle cx="386.9" cy="327.8" r="4.2" fill="#ff0000" stroke="#330000" stroke-width="0.5"/>
<circle cx="382.1" cy="333.5" r="4.2" fill="#ff0000" stroke="#330000" stroke-width="0.5"/>
<circle cx="385.3" cy="335.5" r="4.2" fill="#ff0000" stroke="#330000" stroke-width="0.5"/>
<circle cx="391.0" cy="332.9" r="4.2" fill="#ff0000" stroke="#330000" stroke-width="0.5"/>
<circle cx="386.3" cy="340.5" r="4.2" fill="#ff0000" stroke="#330000" stroke-width="0.5"/>
<circle cx="371.9" cy="341.2" r="4.2" fill="#ff0000" stroke="#330000" stroke-width="0.5"/>
<circle cx="382.1" cy="348.2" r="4.2" fill="#ff0000" stroke="#330000" stroke-width="0.5"/>
<circle cx="386.5" cy="348.8" r="4.2" fill="#ff0000" stroke="#330000" stroke-width="0.5"/>
<circle cx="398.6" cy="328.5" r="4.2" fill="#ff0000" stroke="#330000" stroke-width="0.5"/>
<circle cx="401.8" cy="338.0" r="4.2" fill="#ff0000" stroke="#330000" stroke-width="0.5"/>
<circle cx="404.4" cy="343.1" r="4.2" fill="#ff0000" stroke="#330000" stroke-width="0.5"/>
<circle cx="391.0" cy="324.0" r="4.2" fill="#ff0000" stroke="#330000" stroke-width="0.5"/>
<circle cx="399.9" cy="335.5" r="4.2" fill="#ff0000" stroke="#330000" stroke-width="0.5"/>
<circle cx="404.4" cy="329.1" r="4.2" fill="#ff0000" stroke="#330000" stroke-width="0.5"/>
<circle cx="440.4" cy="250.3" r="4.2" fill="#ff0000" stroke="#330000" stroke-width="0.5"/>
<circle cx="418.2" cy="260.1" r="4.2" fill="#ff0000" stroke="#330000" stroke-width="0.5"/>
<circle cx="408.1" cy="278.0" r="4.2" fill="#ff0000" stroke="#330000" stroke-width="0.5"/>
<circle cx="406.5" cy="293.5" r="4.2" fill="#ff0000" stroke="#330000" stroke-width="0.5"/>
<circle cx="414.1" cy="310.7" r="4.2" fill="#ff0000" stroke="#330000" stroke-width="0.5"/>
<circle cx="415.4" cy="313.9" r="4.2" fill="#ff0000" stroke="#330000" stroke-width="0.5"/>
<circle cx="405.8" cy="317.1" r="4.2" fill="#ff0000" stroke="#330000" stroke-width="0.5"/>
<circle cx="447.6" cy="310.1" r="4.2" fill="#ff0000" stroke="#330000" stroke-width="0.5"/>
<circle cx="446.9" cy="319.6" r="4.2" fill="#ff0000" stroke="#330000" stroke-width="0.5"/>
<circle cx="417.3" cy="320.3" r="4.2" fill="#ff0000" stroke="#330000" stroke-width="0.5"/>
<circle cx="423.6" cy="322.8" r="4.2" fill="#ff0000" stroke="#330000" stroke-width="0.5"/>
<circle cx="426.2" cy="320.9" r="4.2" fill="#ff0000" stroke="#330000" stroke-width="0.5"/>
<circle cx="396.3" cy="320.9" r="4.2" fill="#ff0000" stroke="#330000" stroke-width="0.5"/>
<circle cx="410.3" cy="319.0" r="4.2" fill="#ff0000" stroke="#330000" stroke-width="0.5"/>
<circle cx="464.4" cy="320.3" r="4.2" fill="#ff0000" stroke="#330000" stroke-width="0.5"/>
<circle cx="410.9" cy="329.7" r="4.2" fill="#ff0000" stroke="#330000" stroke-width="0.5"/>
<circle cx="419.2" cy="340.5" r="4.2" fill="#ff0000" stroke="#330000" stroke-width="0.5"/>
<circle cx="419.2" cy="332.9" r="4.2" fill="#ff0000" stroke="#330000" stroke-width="0.5"/>
<circle cx="434.5" cy="332.3" r="4.2" fill="#ff0000" stroke="#330000" stroke-width="0.5"/>
<circle cx="433.2" cy="345.0" r="4.2" fill="#ff0000" stroke="#330000" stroke-width="0.5"/>
<circle cx="444.6" cy="343.7" r="4.2" fill="#ff0000" stroke="#330000" stroke-width="0.5"/>
<circle cx="447.2" cy="332.9" r="4.2" fill="#ff0000" stroke="#330000" stroke-width="0.5"/>
<circle cx="454.2" cy="330.4" r="4.2" fill="#ff0000" stroke="#330000" stroke-width="0.5"/>
<circle cx="459.9" cy="342.5" r="4.2" fill="#ff0000" stroke="#330000" stroke-width="0.5"/>
<circle cx="455.5" cy="335.5" r="4.2" fill="#ff0000" stroke="#330000" stroke-width="0.5"/>
<circle cx="464.4" cy="331.6" r="4.2" fill="#ff0000" stroke="#330000" stroke-width="0.5"/>
<circle cx="425.5" cy="340.5" r="4.2" fill="#ff0000" stroke="#330000" stroke-width="0.5"/>
<circle cx="439.5" cy="326.5" r="4.2" fill="#ff0000" stroke="#330000" stroke-width="0.5"/>
<circle cx="429.4" cy="329.1" r="4.2" fill="#ff0000" stroke="#330000" stroke-width="0.5"/>
<circle cx="407.7" cy="325.3" r="4.2" fill="#ff0000" stroke="#330000" stroke-width="0.5"/>
<circle cx="438.3" cy="339.3" r="4.2" fill="#ff0000" stroke="#330000" stroke-width="0.5"/>
<circle cx="410.3" cy="347.5" r="4.2" fill="#ff0000" stroke="#330000" stroke-width="0.5"/>
<circle cx="419.2" cy="351.4" r="4.2" fill="#ff0000" stroke="#330000" stroke-width="0.5"/>
<circle cx="429.4" cy="348.8" r="4.2" fill="#ff0000" stroke="#330000" stroke-width="0.5"/>
<circle cx="439.5" cy="349.5" r="4.2" fill="#ff0000" stroke="#330000" stroke-width="0.5"/>
<circle cx="451.6" cy="348.2" r="4.2" fill="#ff0000" stroke="#330000" stroke-width="0.5"/>
<circle cx="455.2" cy="355.2" r="4.2" fill="#ff0000" stroke="#330000" stroke-width="0.5"/>
<circle cx="402.6" cy="343.7" r="4.2" fill="#ff0000" stroke="#330000" stroke-width="0.5"/>
<circle cx="471.8" cy="265.5" r="4.2" fill="#ff0000" stroke="#330000" stroke-width="0.5"/>
<circle cx="469.4" cy="280.5" r="4.2" fill="#ff0000" stroke="#330000" stroke-width="0.5"/>
<circle cx="500.4" cy="308.5" r="4.2" fill="#ff0000" stroke="#330000" stroke-width="0.5"/>
<circle cx="503.4" cy="336.5" r="4.2" fill="#ff0000" stroke="#330000" stroke-width="0.5"/>
<circle cx="496.7" cy="336.7" r="4.2" fill="#ff0000" stroke="#330000" stroke-width="0.5"/>
<circle cx="478.8" cy="318.9" r="4.2" fill="#ff0000" stroke="#330000" stroke-width="0.5"/>
<circle cx="484.0" cy="325.7" r="4.2" fill="#ff0000" stroke="#330000" stroke-width="0.5"/>
<circle cx="464.5" cy="324.6" r="4.2" fill="#ff0000" stroke="#330000" stroke-width="0.5"/>
<circle cx="466.5" cy="331.6" r="4.2" fill="#ff0000" stroke="#330000" stroke-width="0.5"/>
<circle cx="474.1" cy="334.8" r="4.2" fill="#ff0000" stroke="#330000" stroke-width="0.5"/>
<circle cx="474.7" cy="339.9" r="4.2" fill="#ff0000" stroke="#330000" stroke-width="0.5"/>
<circle cx="481.7" cy="347.5" r="4.2" fill="#ff0000" stroke="#330000" stroke-width="0.5"/>
<circle cx="462.6" cy="339.9" r="4.2" fill="#ff0000" stroke="#330000" stroke-width="0.5"/>
<circle cx="491.9" cy="354.6" r="4.2" fill="#ff0000" stroke="#330000" stroke-width="0.5"/>
<circle cx="456.9" cy="346.9" r="4.2" fill="#ff0000" stroke="#330000" stroke-width="0.5"/>
<circle cx="477.9" cy="355.5" r="4.2" fill="#ff0000" stroke="#330000" stroke-width="0.5"/>
</g>
<rect x="72.2" y="26.2" width="7.6" height="7.6" fill="#228b22"/>
<text x="82.3" y="34.8" font-size="14.9">MERRA−2</text>
<circle cx="76" cy="45.3" r="4.2" fill="#ff0000"/>
<text x="82.3" y="50.5" font-size="14.9">ERA5</text>
<rect x="61.6" y="16.5" width="470.40" height="170.70" fill="none" stroke="#111" stroke-width="1.6"/>
<line x1="56.0" y1="20.31" x2="61.6" y2="20.31" stroke="#111" stroke-width="0.8"/>
<line x1="532.0" y1="20.31" x2="537.2" y2="20.31" stroke="#111" stroke-width="0.8"/>
<text x="48.8" y="25.81" font-size="14.9" text-anchor="end">24</text>
<line x1="56.0" y1="52.19" x2="61.6" y2="52.19" stroke="#111" stroke-width="0.8"/>
<line x1="532.0" y1="52.19" x2="537.2" y2="52.19" stroke="#111" stroke-width="0.8"/>
<text x="48.8" y="57.69" font-size="14.9" text-anchor="end">16</text>
<line x1="56.0" y1="84.07" x2="61.6" y2="84.07" stroke="#111" stroke-width="0.8"/>
<line x1="532.0" y1="84.07" x2="537.2" y2="84.07" stroke="#111" stroke-width="0.8"/>
<text x="48.8" y="89.57" font-size="14.9" text-anchor="end">8</text>
<line x1="56.0" y1="115.95" x2="61.6" y2="115.95" stroke="#111" stroke-width="0.8"/>
<line x1="532.0" y1="115.95" x2="537.2" y2="115.95" stroke="#111" stroke-width="0.8"/>
<text x="48.8" y="121.45" font-size="14.9" text-anchor="end">0</text>
<line x1="56.0" y1="147.83" x2="61.6" y2="147.83" stroke="#111" stroke-width="0.8"/>
<line x1="532.0" y1="147.83" x2="537.2" y2="147.83" stroke="#111" stroke-width="0.8"/>
<text x="48.8" y="153.33" font-size="14.9" text-anchor="end">−8</text>
<line x1="56.0" y1="179.71" x2="61.6" y2="179.71" stroke="#111" stroke-width="0.8"/>
<line x1="532.0" y1="179.71" x2="537.2" y2="179.71" stroke="#111" stroke-width="0.8"/>
<text x="48.8" y="185.21" font-size="14.9" text-anchor="end">−16</text>
<line x1="61.60" y1="187.2" x2="61.60" y2="192.6" stroke="#111" stroke-width="0.8"/>
<line x1="61.60" y1="11.3" x2="61.60" y2="16.5" stroke="#111" stroke-width="0.8"/>
<text x="61.60" y="210.40" font-size="14.9" text-anchor="middle">−90</text>
<line x1="140.00" y1="187.2" x2="140.00" y2="192.6" stroke="#111" stroke-width="0.8"/>
<line x1="140.00" y1="11.3" x2="140.00" y2="16.5" stroke="#111" stroke-width="0.8"/>
<text x="140.00" y="210.40" font-size="14.9" text-anchor="middle">−60</text>
<line x1="218.40" y1="187.2" x2="218.40" y2="192.6" stroke="#111" stroke-width="0.8"/>
<line x1="218.40" y1="11.3" x2="218.40" y2="16.5" stroke="#111" stroke-width="0.8"/>
<text x="218.40" y="210.40" font-size="14.9" text-anchor="middle">−30</text>
<line x1="296.80" y1="187.2" x2="296.80" y2="192.6" stroke="#111" stroke-width="0.8"/>
<line x1="296.80" y1="11.3" x2="296.80" y2="16.5" stroke="#111" stroke-width="0.8"/>
<text x="296.80" y="210.40" font-size="14.9" text-anchor="middle">0</text>
<line x1="375.20" y1="187.2" x2="375.20" y2="192.6" stroke="#111" stroke-width="0.8"/>
<line x1="375.20" y1="11.3" x2="375.20" y2="16.5" stroke="#111" stroke-width="0.8"/>
<text x="375.20" y="210.40" font-size="14.9" text-anchor="middle">30</text>
<line x1="453.60" y1="187.2" x2="453.60" y2="192.6" stroke="#111" stroke-width="0.8"/>
<line x1="453.60" y1="11.3" x2="453.60" y2="16.5" stroke="#111" stroke-width="0.8"/>
<text x="453.60" y="210.40" font-size="14.9" text-anchor="middle">60</text>
<line x1="532.00" y1="187.2" x2="532.00" y2="192.6" stroke="#111" stroke-width="0.8"/>
<line x1="532.00" y1="11.3" x2="532.00" y2="16.5" stroke="#111" stroke-width="0.8"/>
<text x="532.00" y="210.40" font-size="14.9" text-anchor="middle">90</text>
<rect x="61.6" y="222.0" width="470.40" height="171.30" fill="none" stroke="#111" stroke-width="1.6"/>
<line x1="56.0" y1="240.90" x2="61.6" y2="240.90" stroke="#111" stroke-width="0.8"/>
<line x1="532.0" y1="240.90" x2="537.2" y2="240.90" stroke="#111" stroke-width="0.8"/>
<text x="48.8" y="246.40" font-size="14.9" text-anchor="end">24</text>
<line x1="56.0" y1="279.00" x2="61.6" y2="279.00" stroke="#111" stroke-width="0.8"/>
<line x1="532.0" y1="279.00" x2="537.2" y2="279.00" stroke="#111" stroke-width="0.8"/>
<text x="48.8" y="284.50" font-size="14.9" text-anchor="end">18</text>
<line x1="56.0" y1="317.10" x2="61.6" y2="317.10" stroke="#111" stroke-width="0.8"/>
<line x1="532.0" y1="317.10" x2="537.2" y2="317.10" stroke="#111" stroke-width="0.8"/>
<text x="48.8" y="322.60" font-size="14.9" text-anchor="end">12</text>
<line x1="56.0" y1="355.20" x2="61.6" y2="355.20" stroke="#111" stroke-width="0.8"/>
<line x1="532.0" y1="355.20" x2="537.2" y2="355.20" stroke="#111" stroke-width="0.8"/>
<text x="48.8" y="360.70" font-size="14.9" text-anchor="end">6</text>
<line x1="56.0" y1="393.30" x2="61.6" y2="393.30" stroke="#111" stroke-width="0.8"/>
<line x1="532.0" y1="393.30" x2="537.2" y2="393.30" stroke="#111" stroke-width="0.8"/>
<text x="48.8" y="398.80" font-size="14.9" text-anchor="end">0</text>
<line x1="61.60" y1="393.3" x2="61.60" y2="398.7" stroke="#111" stroke-width="0.8"/>
<line x1="61.60" y1="216.8" x2="61.60" y2="222.0" stroke="#111" stroke-width="0.8"/>
<text x="61.60" y="415.80" font-size="14.9" text-anchor="middle">−90</text>
<line x1="140.00" y1="393.3" x2="140.00" y2="398.7" stroke="#111" stroke-width="0.8"/>
<line x1="140.00" y1="216.8" x2="140.00" y2="222.0" stroke="#111" stroke-width="0.8"/>
<text x="140.00" y="415.80" font-size="14.9" text-anchor="middle">−60</text>
<line x1="218.40" y1="393.3" x2="218.40" y2="398.7" stroke="#111" stroke-width="0.8"/>
<line x1="218.40" y1="216.8" x2="218.40" y2="222.0" stroke="#111" stroke-width="0.8"/>
<text x="218.40" y="415.80" font-size="14.9" text-anchor="middle">−30</text>
<line x1="296.80" y1="393.3" x2="296.80" y2="398.7" stroke="#111" stroke-width="0.8"/>
<line x1="296.80" y1="216.8" x2="296.80" y2="222.0" stroke="#111" stroke-width="0.8"/>
<text x="296.80" y="415.80" font-size="14.9" text-anchor="middle">0</text>
<line x1="375.20" y1="393.3" x2="375.20" y2="398.7" stroke="#111" stroke-width="0.8"/>
<line x1="375.20" y1="216.8" x2="375.20" y2="222.0" stroke="#111" stroke-width="0.8"/>
<text x="375.20" y="415.80" font-size="14.9" text-anchor="middle">30</text>
<line x1="453.60" y1="393.3" x2="453.60" y2="398.7" stroke="#111" stroke-width="0.8"/>
<line x1="453.60" y1="216.8" x2="453.60" y2="222.0" stroke="#111" stroke-width="0.8"/>
<text x="453.60" y="415.80" font-size="14.9" text-anchor="middle">60</text>
<line x1="532.00" y1="393.3" x2="532.00" y2="398.7" stroke="#111" stroke-width="0.8"/>
<line x1="532.00" y1="216.8" x2="532.00" y2="222.0" stroke="#111" stroke-width="0.8"/>
<text x="532.00" y="415.80" font-size="14.9" text-anchor="middle">90</text>
<text x="505.9" y="41.5" font-size="14.9" text-anchor="middle">(a)</text>
<text x="87.8" y="246.4" font-size="14.9" text-anchor="middle">(b)</text>
<text transform="translate(20.2,102.4) rotate(-90)" font-size="14.9" text-anchor="middle">bias/mm</text>
<text transform="translate(28.3,307.4) rotate(-90)" font-size="14.9" text-anchor="middle">RMS/mm</text>
<text x="296.3" y="431.9" font-size="15.1" text-anchor="middle">Latitude/(°)</text>
</svg></body></html>
